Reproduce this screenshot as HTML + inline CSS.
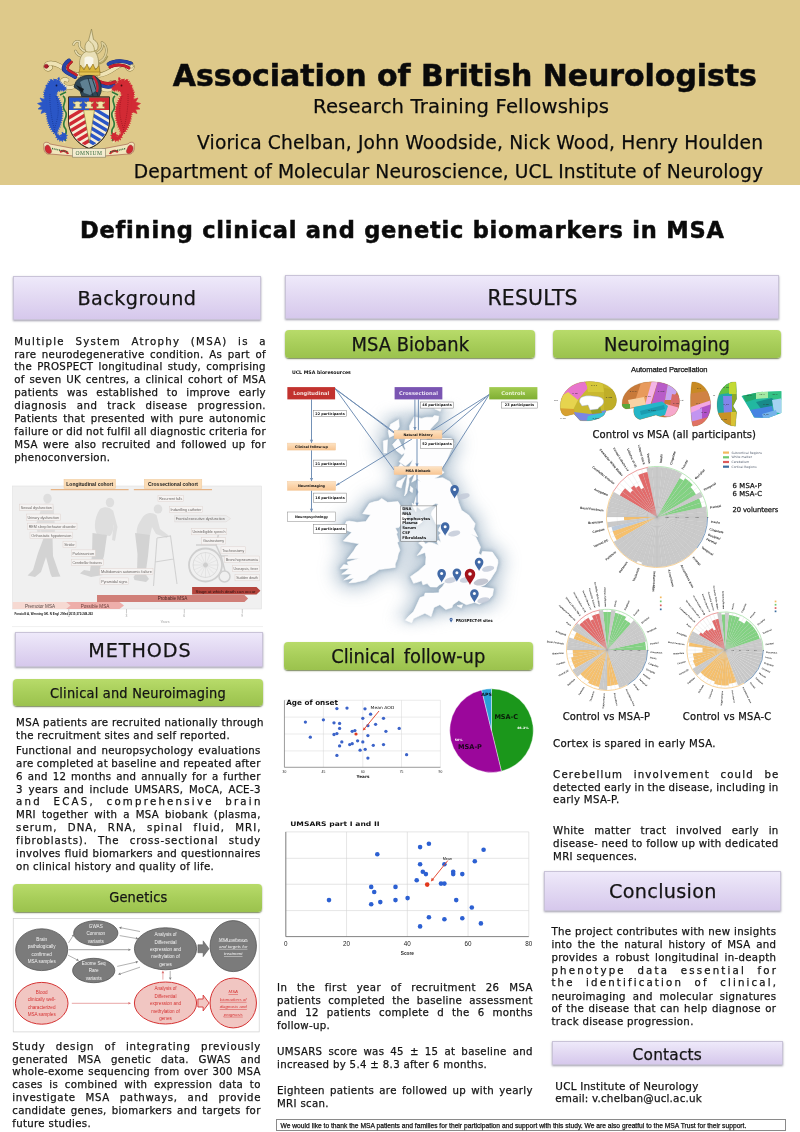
<!DOCTYPE html>
<html lang="en">
<head>
<meta charset="utf-8">
<title>Defining clinical and genetic biomarkers in MSA</title>
<style>
*{margin:0;padding:0;box-sizing:border-box}
html,body{width:800px;height:1132px;background:#fff;overflow:hidden}
body{position:relative;font-family:"DejaVu Sans","Liberation Sans",sans-serif;color:#141414}
.abs{position:absolute}
#band{left:0;top:0;width:800px;height:184.5px;background:#dec98a}
.pbox{position:absolute;background:linear-gradient(#eee9fa,#e3daf3 45%,#d6c8ec);border:1px solid #c9c3d8;box-shadow:0 1px 2px rgba(80,75,105,.55)}
.gbox{position:absolute;background:linear-gradient(#b8db6a,#a8ce5a 50%,#9bc24d);border-radius:4px;box-shadow:0 1px 1.5px rgba(70,90,30,.75)}
.t{position:absolute;white-space:pre;color:#141414;-webkit-text-stroke:0.25px #141414}
svg{position:absolute;overflow:visible}
svg text{font-family:"Liberation Sans",sans-serif}
</style>
</head>
<body>
<div id="band" class="abs"></div>
<!-- section boxes -->
<div class="pbox" style="left:13px;top:276px;width:248px;height:44px"></div>
<div class="pbox" style="left:285px;top:275px;width:493.5px;height:44px"></div>
<div class="pbox" style="left:14.7px;top:632.3px;width:248.5px;height:35px"></div>
<div class="pbox" style="left:543.8px;top:870.5px;width:237.5px;height:40.2px"></div>
<div class="pbox" style="left:552px;top:1041.4px;width:231px;height:23.4px"></div>
<div class="gbox" style="left:285px;top:330px;width:250px;height:28px"></div>
<div class="gbox" style="left:552.5px;top:330px;width:228.5px;height:28px"></div>
<div class="gbox" style="left:284px;top:642.3px;width:249.2px;height:28px"></div>
<div class="gbox" style="left:13.3px;top:679.2px;width:250px;height:27.2px"></div>
<div class="gbox" style="left:13.3px;top:884px;width:249.2px;height:28px"></div>
<!-- footer acknowledgement box -->
<div class="abs" style="left:275.8px;top:1119.4px;width:510.2px;height:12px;border:1px solid #8a8a8a;background:#fff"></div>

<div class="t" style="left:172.80px;top:57px;font-size:30px;line-height:37px;font-weight:bold;-webkit-text-stroke-width:0.55px;color:#0a0a0a;letter-spacing:-0.058px;">Association of British Neurologists</div>
<div class="t" style="left:313.00px;top:94px;font-size:19.6px;line-height:25px;color:#0a0a0a;letter-spacing:0.160px;">Research Training Fellowships</div>
<div class="t" style="left:197.00px;top:131px;font-size:18.7px;line-height:23px;color:#0a0a0a;letter-spacing:0.163px;">Viorica Chelban, John Woodside, Nick Wood, Henry Houlden</div>
<div class="t" style="left:133.75px;top:160px;font-size:18.7px;line-height:23px;color:#0a0a0a;letter-spacing:0.084px;">Department of Molecular Neuroscience, UCL Institute of Neurology</div>
<div class="t" style="left:80.00px;top:216px;font-size:22.5px;line-height:28px;font-weight:bold;-webkit-text-stroke-width:0.55px;color:#0a0a0a;letter-spacing:0.787px;">Defining clinical and genetic biomarkers in MSA</div>
<div class="t" style="left:77.50px;top:286px;font-size:19.2px;line-height:25px;letter-spacing:0.446px;">Background</div>
<div class="t" style="left:487.50px;top:285px;font-size:20.4px;line-height:26px;letter-spacing:0.188px;">RESULTS</div>
<div class="t" style="left:88.20px;top:638px;font-size:19.2px;line-height:25px;letter-spacing:0.943px;">METHODS</div>
<div class="t" style="left:609.10px;top:879px;font-size:19.2px;line-height:25px;letter-spacing:0.302px;">Conclusion</div>
<div class="t" style="left:632.60px;top:1045px;font-size:15.4px;line-height:20px;letter-spacing:0.185px;">Contacts</div>
<div class="t" style="left:351.50px;top:332px;font-size:19.9px;line-height:25px;font-family:'DejaVu Sans Condensed','DejaVu Sans',sans-serif;letter-spacing:0.017px;">MSA Biobank</div>
<div class="t" style="left:604.00px;top:332px;font-size:19.9px;line-height:25px;font-family:'DejaVu Sans Condensed','DejaVu Sans',sans-serif;letter-spacing:-0.003px;">Neuroimaging</div>
<div class="t" style="left:331.25px;top:644px;font-size:19.9px;line-height:25px;font-family:'DejaVu Sans Condensed','DejaVu Sans',sans-serif;letter-spacing:-0.068px;word-spacing:3px;">Clinical follow-up</div>
<div class="t" style="left:50.00px;top:684px;font-size:14.4px;line-height:18px;font-family:'DejaVu Sans Condensed','DejaVu Sans',sans-serif;letter-spacing:0.221px;">Clinical and Neuroimaging</div>
<div class="t" style="left:109.20px;top:888px;font-size:14.4px;line-height:18px;font-family:'DejaVu Sans Condensed','DejaVu Sans',sans-serif;letter-spacing:0.197px;">Genetics</div>
<div class="t" style="left:14.30px;top:335px;font-size:10.2px;line-height:13px;letter-spacing:1.254px;word-spacing:6.120px;">Multiple System Atrophy (MSA) is a</div>
<div class="t" style="left:14.30px;top:348px;font-size:10.2px;line-height:13px;letter-spacing:0.326px;word-spacing:1.990px;">rare neurodegenerative condition. As part of</div>
<div class="t" style="left:14.30px;top:360px;font-size:10.2px;line-height:13px;letter-spacing:0.326px;word-spacing:1.597px;">the PROSPECT longitudinal study, comprising</div>
<div class="t" style="left:14.30px;top:373px;font-size:10.2px;line-height:13px;letter-spacing:0.326px;word-spacing:1.154px;">of seven UK centres, a clinical cohort of MSA</div>
<div class="t" style="left:14.30px;top:386px;font-size:10.2px;line-height:13px;letter-spacing:0.326px;word-spacing:4.933px;">patients was established to improve early</div>
<div class="t" style="left:14.30px;top:399px;font-size:10.2px;line-height:13px;letter-spacing:0.492px;word-spacing:6.120px;">diagnosis and track disease progression.</div>
<div class="t" style="left:14.30px;top:412px;font-size:10.2px;line-height:13px;letter-spacing:0.326px;word-spacing:1.943px;">Patients that presented with pure autonomic</div>
<div class="t" style="left:14.30px;top:425px;font-size:10.2px;line-height:13px;letter-spacing:0.326px;word-spacing:-0.404px;">failure or did not fulfil all diagnostic criteria for</div>
<div class="t" style="left:14.30px;top:438px;font-size:10.2px;line-height:13px;letter-spacing:0.326px;word-spacing:1.734px;">MSA were also recruited and followed up for</div>
<div class="t" style="left:14.30px;top:451px;font-size:10.2px;line-height:13px;letter-spacing:0.326px;">phenoconversion.</div>
<div class="t" style="left:16.10px;top:716px;font-size:10.2px;line-height:13px;letter-spacing:0.326px;word-spacing:0.056px;">MSA patients are recruited nationally through</div>
<div class="t" style="left:16.10px;top:729px;font-size:10.2px;line-height:13px;letter-spacing:0.326px;">the recruitment sites and self reported.</div>
<div class="t" style="left:16.10px;top:744px;font-size:10.2px;line-height:13px;letter-spacing:0.326px;word-spacing:1.233px;">Functional and neuropsychology evaluations</div>
<div class="t" style="left:16.10px;top:757px;font-size:10.2px;line-height:13px;letter-spacing:0.326px;word-spacing:-0.302px;">are completed at baseline and repeated after</div>
<div class="t" style="left:16.10px;top:770px;font-size:10.2px;line-height:13px;letter-spacing:0.326px;word-spacing:1.240px;">6 and 12 months and annually for a further</div>
<div class="t" style="left:16.10px;top:783px;font-size:10.2px;line-height:13px;letter-spacing:0.326px;word-spacing:2.061px;">3 years and include UMSARS, MoCA, ACE-3</div>
<div class="t" style="left:16.10px;top:795px;font-size:10.2px;line-height:13px;letter-spacing:2.234px;word-spacing:6.120px;">and ECAS, comprehensive brain</div>
<div class="t" style="left:16.10px;top:808px;font-size:10.2px;line-height:13px;letter-spacing:0.326px;word-spacing:2.384px;">MRI together with a MSA biobank (plasma,</div>
<div class="t" style="left:16.10px;top:821px;font-size:10.2px;line-height:13px;letter-spacing:0.997px;word-spacing:6.120px;">serum, DNA, RNA, spinal fluid, MRI,</div>
<div class="t" style="left:16.10px;top:834px;font-size:10.2px;line-height:13px;letter-spacing:0.861px;word-spacing:6.120px;">fibroblasts). The cross-sectional study</div>
<div class="t" style="left:16.10px;top:847px;font-size:10.2px;line-height:13px;letter-spacing:0.326px;word-spacing:0.429px;">involves fluid biomarkers and questionnaires</div>
<div class="t" style="left:16.10px;top:860px;font-size:10.2px;line-height:13px;letter-spacing:0.326px;">on clinical history and quality of life.</div>
<div class="t" style="left:12.25px;top:1040px;font-size:10.2px;line-height:13px;letter-spacing:0.786px;word-spacing:6.120px;">Study design of integrating previously</div>
<div class="t" style="left:12.25px;top:1053px;font-size:10.2px;line-height:13px;letter-spacing:0.350px;word-spacing:6.120px;">generated MSA genetic data. GWAS and</div>
<div class="t" style="left:12.25px;top:1065px;font-size:10.2px;line-height:13px;letter-spacing:0.326px;word-spacing:0.865px;">whole-exome sequencing from over 300 MSA</div>
<div class="t" style="left:12.25px;top:1078px;font-size:10.2px;line-height:13px;letter-spacing:0.326px;word-spacing:3.135px;">cases is combined with expression data to</div>
<div class="t" style="left:12.25px;top:1091px;font-size:10.2px;line-height:13px;letter-spacing:0.608px;word-spacing:6.120px;">investigate MSA pathways, and provide</div>
<div class="t" style="left:12.25px;top:1104px;font-size:10.2px;line-height:13px;letter-spacing:0.326px;word-spacing:1.404px;">candidate genes, biomarkers and targets for</div>
<div class="t" style="left:12.25px;top:1117px;font-size:10.2px;line-height:13px;letter-spacing:0.326px;">future studies.</div>
<div class="t" style="left:277.00px;top:981px;font-size:10.2px;line-height:13px;letter-spacing:0.422px;word-spacing:6.120px;">In the first year of recruitment 26 MSA</div>
<div class="t" style="left:277.00px;top:994px;font-size:10.2px;line-height:13px;letter-spacing:0.326px;word-spacing:3.443px;">patients completed the baseline assessment</div>
<div class="t" style="left:277.00px;top:1006px;font-size:10.2px;line-height:13px;letter-spacing:0.326px;word-spacing:4.445px;">and 12 patients complete d the 6 months</div>
<div class="t" style="left:277.00px;top:1019px;font-size:10.2px;line-height:13px;letter-spacing:0.326px;">follow-up.</div>
<div class="t" style="left:277.00px;top:1045px;font-size:10.2px;line-height:13px;letter-spacing:0.326px;word-spacing:2.456px;">UMSARS score was 45 ± 15 at baseline and</div>
<div class="t" style="left:277.00px;top:1058px;font-size:10.2px;line-height:13px;letter-spacing:0.326px;">increased by 5.4 ± 8.3 after 6 months.</div>
<div class="t" style="left:277.00px;top:1084px;font-size:10.2px;line-height:13px;letter-spacing:0.326px;word-spacing:1.599px;">Eighteen patients are followed up with yearly</div>
<div class="t" style="left:277.00px;top:1097px;font-size:10.2px;line-height:13px;letter-spacing:0.326px;">MRI scan.</div>
<div class="t" style="left:553.10px;top:737px;font-size:10.2px;line-height:13px;letter-spacing:0.326px;">Cortex is spared in early MSA.</div>
<div class="t" style="left:553.10px;top:768px;font-size:10.2px;line-height:13px;letter-spacing:1.170px;word-spacing:6.120px;">Cerebellum involvement could be</div>
<div class="t" style="left:553.10px;top:781px;font-size:10.2px;line-height:13px;letter-spacing:0.326px;word-spacing:-0.408px;">detected early in the disease, including in</div>
<div class="t" style="left:553.10px;top:793px;font-size:10.2px;line-height:13px;letter-spacing:0.326px;">early MSA-P.</div>
<div class="t" style="left:553.10px;top:824px;font-size:10.2px;line-height:13px;letter-spacing:0.347px;word-spacing:6.120px;">White matter tract involved early in</div>
<div class="t" style="left:553.10px;top:837px;font-size:10.2px;line-height:13px;letter-spacing:0.326px;word-spacing:-0.088px;">disease- need to follow up with dedicated</div>
<div class="t" style="left:553.10px;top:850px;font-size:10.2px;line-height:13px;letter-spacing:0.326px;">MRI sequences.</div>
<div class="t" style="left:551.40px;top:925px;font-size:10.2px;line-height:13px;letter-spacing:0.326px;word-spacing:0.184px;">The project contributes with new insights</div>
<div class="t" style="left:551.40px;top:938px;font-size:10.2px;line-height:13px;letter-spacing:0.326px;word-spacing:1.959px;">into the the natural history of MSA and</div>
<div class="t" style="left:551.40px;top:951px;font-size:10.2px;line-height:13px;letter-spacing:0.326px;word-spacing:1.932px;">provides a robust longitudinal in-deapth</div>
<div class="t" style="left:551.40px;top:964px;font-size:10.2px;line-height:13px;letter-spacing:2.200px;word-spacing:6.120px;">phenotype data essential for</div>
<div class="t" style="left:551.40px;top:976px;font-size:10.2px;line-height:13px;letter-spacing:2.163px;word-spacing:6.120px;">the identification of clinical,</div>
<div class="t" style="left:551.40px;top:990px;font-size:10.2px;line-height:13px;letter-spacing:0.326px;word-spacing:3.163px;">neuroimaging and molecular signatures</div>
<div class="t" style="left:551.40px;top:1002px;font-size:10.2px;line-height:13px;letter-spacing:0.326px;word-spacing:0.894px;">of the disease that can help diagnose or</div>
<div class="t" style="left:551.40px;top:1015px;font-size:10.2px;line-height:13px;letter-spacing:0.326px;">track disease progression.</div>
<div class="t" style="left:555.30px;top:1079px;font-size:10.4px;line-height:14px;letter-spacing:0.245px;">UCL Institute of Neurology</div>
<div class="t" style="left:555.30px;top:1091px;font-size:10.4px;line-height:14px;letter-spacing:0.176px;">email: v.chelban@ucl.ac.uk</div>
<div class="t" style="left:592.50px;top:428px;font-size:10.0px;line-height:13px;letter-spacing:0.078px;">Control vs MSA (all participants)</div>
<div class="t" style="left:562.75px;top:709px;font-size:11px;line-height:15px;font-family:'DejaVu Sans Condensed','DejaVu Sans',sans-serif;letter-spacing:0.201px;">Control vs MSA-P</div>
<div class="t" style="left:682.75px;top:709px;font-size:11px;line-height:15px;font-family:'DejaVu Sans Condensed','DejaVu Sans',sans-serif;letter-spacing:0.218px;">Control vs MSA-C</div>
<div class="t" style="left:631.00px;top:364px;font-size:7.6px;line-height:11px;font-family:'Liberation Sans',sans-serif;letter-spacing:-0.096px;">Automated Parcellation</div>
<div class="t" style="left:280.50px;top:1121px;font-size:6.7px;line-height:9px;font-family:'Liberation Sans',sans-serif;letter-spacing:0.005px;">We would like to thank the MSA patients and families for their participation and support with this study. We are also greatful to the MSA Trust for their support.</div>
<div class="t" style="left:732.40px;top:481px;font-size:6.8px;line-height:10px;letter-spacing:0.226px;">6 MSA-P</div>
<div class="t" style="left:732.40px;top:489px;font-size:6.8px;line-height:10px;letter-spacing:0.167px;">6 MSA-C</div>
<div class="t" style="left:732.40px;top:505px;font-size:6.8px;line-height:10px;letter-spacing:-0.088px;">20 volunteers</div>
<!-- ABN crest -->
<svg style="left:0;top:0" width="180" height="184" viewBox="0 0 180 184">
<defs>
<clipPath id="shL"><path d="M69 110H89V147C78 143 70 134 69 122Z"/></clipPath>
<clipPath id="shR"><path d="M109 110H89V147C100 143 108 134 109 122Z"/></clipPath>
<g id="seah">
 <path id="seahp" d="M47 86L49.500 82L51.500 79.500L53 82L55 79L56.500 81.500L58.500 79.500L59.500 82.500L62 84.500L66 88.500L64.500 90.300L60.500 89.800L57 91.500L55.500 94.500C57.500 97 60 102 61.500 108C62.500 114 61.500 121 59 127C57.500 130.500 56 133 56.500 136C57.500 139.500 61 141.500 64.500 139.500C67 137.500 66.500 134 63.800 133.300C62 133.200 61 135 62.300 136.800C60.500 137.500 59.500 136 59 135.500C54 134 50 128 48 120C46 111 45 101 44.500 93Z"/>
 <use href="#seahp" fill="none" stroke-width="3" stroke-dasharray="0.9 1.3"/>
 <path d="M46 100L40 98L42.500 102L37.500 103.500L41.500 106L38 109L42.500 109.500L41 113.500L46.500 111.500Z" stroke-width="0.6"/>
</g>
</defs>
<!-- mantling ribbons -->
<g fill="none" stroke-linecap="round" stroke-linejoin="round">
 <path d="M79 75C72 75 66 70 60 66C54 62.500 47 62 46 66C45.500 69 49 70 50.500 67.500" stroke="#8a7a40" stroke-width="4.9"/>
 <path d="M79 75C72 75 66 70 60 66C54 62.500 47 62 46 66C45.500 69 49 70 50.500 67.500" stroke="#efe3b4" stroke-width="4"/>
 <path d="M80 84C74 88 67 89 63 85C60 81 64 78 67 80" stroke="#8a7a40" stroke-width="4.5"/>
 <path d="M80 84C74 88 67 89 63 85C60 81 64 78 67 80" stroke="#efe3b4" stroke-width="3.6"/>
 <path d="M69 60.500C65 63 63 67 64 70C66 73 71 74 75 77" stroke="#1a2a6a" stroke-width="4.0"/>
 <path d="M69 60.500C65 63 63 67 64 70C66 73 71 74 75 77" stroke="#2846a8" stroke-width="3.4"/>
 <path d="M71.500 62C68.500 64.500 67 67.500 68 69.500C69.500 71.500 73 72.500 76.500 75" stroke="#7a1018" stroke-width="2.6"/>
 <path d="M71.500 62C68.500 64.500 67 67.500 68 69.500C69.500 71.500 73 72.500 76.500 75" stroke="#c8202f" stroke-width="2.2"/>
 <circle cx="46.300" cy="66.300" r="2.100" fill="#b01c2c" stroke="#6a1018" stroke-width="0.400"/>
 <path d="M99 75C106 75 112 70 118 66C124 62.500 131 62 132 66C132.500 69 129 70 127.500 67.500" stroke="#8a7a40" stroke-width="4.9"/>
 <path d="M99 75C106 75 112 70 118 66C124 62.500 131 62 132 66C132.500 69 129 70 127.500 67.500" stroke="#efe3b4" stroke-width="4"/>
 <path d="M98 86C104 91 111 91 114 87C116 84 113 81 110.500 83" stroke="#8a7a40" stroke-width="4.5"/>
 <path d="M98 86C104 91 111 91 114 87C116 84 113 81 110.500 83" stroke="#efe3b4" stroke-width="3.6"/>
 <path d="M108.500 64C114 60.500 124 60 131 63.500" stroke="#1a2a6a" stroke-width="3.8000000000000003"/>
 <path d="M108.500 64C114 60.500 124 60 131 63.500" stroke="#2846a8" stroke-width="3.2"/>
 <path d="M110 67C116 64 124 64.500 129 68" stroke="#7a1018" stroke-width="3.0"/>
 <path d="M110 67C116 64 124 64.500 129 68" stroke="#c8202f" stroke-width="2.6"/>
 <path d="M94 77.500C99 83 108 85.500 115 82" stroke="#7a1018" stroke-width="3.1999999999999997"/>
 <path d="M94 77.500C99 83 108 85.500 115 82" stroke="#c8202f" stroke-width="2.8"/>
 <path d="M96 81.500C101 87 109 88.500 114.500 85.500" stroke="#1a2a6a" stroke-width="3.3"/>
 <path d="M96 81.500C101 87 109 88.500 114.500 85.500" stroke="#2846a8" stroke-width="2.8"/>
 <circle cx="131.700" cy="66.300" r="1.800" fill="#efe3b4" stroke="#8a7a40" stroke-width="0.400"/>
</g>
<!-- unicorn -->
<g fill="none" stroke-linecap="round" stroke-linejoin="round">
 <path d="M86 52C81 50 78 46 79.500 42C77.500 40.500 74.500 41.500 73.500 44.500" stroke="#8f8450" stroke-width="2.600"/>
 <path d="M86 52C81 50 78 46 79.500 42C77.500 40.500 74.500 41.500 73.500 44.500" stroke="#e6dbb0" stroke-width="1.600"/>
 <path d="M85 56.500C80 57 76.500 54 75.500 51" stroke="#8f8450" stroke-width="2.600"/>
 <path d="M85 56.500C80 57 76.500 54 75.500 51" stroke="#e6dbb0" stroke-width="1.600"/>
 <path d="M97 53C101 51 103.500 47 102 42.500C105 44 107.500 48 106 53.500C105 57.500 102 61 98.500 62" stroke="#8f8450" stroke-width="2.600"/>
 <path d="M97 53C101 51 103.500 47 102 42.500C105 44 107.500 48 106 53.500C105 57.500 102 61 98.500 62" stroke="#dccf9c" stroke-width="1.600"/>
 <path d="M99 64C103 63 106 60 107.500 56.500" stroke="#a89a5a" stroke-width="1.400"/>
</g>
<g fill="#e9dfb6" stroke="#8f8450" stroke-width="0.700" stroke-linejoin="round">
 <path d="M80 68C78.500 61 80.500 54 86 51.500C84 47.500 85 42.500 88.500 40.500L91.500 29L93.500 39.500C97.500 41.500 99.500 46 97 50L94.500 51C98 55 99.500 61 98 68.500Z"/>
 <path d="M88.500 40.500C92 42.500 94.500 46 94.500 51M86 51.500C89 52.500 92 52 94.500 51" fill="none" stroke="#a89a5a" stroke-width="0.800"/>
 <path d="M84.500 58C87 56 91 56 93.500 58.500L93 66.500H84.500Z" fill="#f8f6ea" stroke="none"/>
</g>
<!-- crown -->
<path d="M79 73L80.5 65L84 70L87 64L89.5 70L93 64L95.5 70L99 65.5L100 73Z" fill="#d9b63c" stroke="#8a6a18" stroke-width="0.6"/>
<rect x="79" y="72" width="21" height="3.2" fill="#e3c352" stroke="#8a6a18" stroke-width="0.5"/>
<!-- helmet -->
<path d="M75 84C77 77 86 74 94 76C100 78 102 84 101 92L99 97H82L80 91L74 87Z" fill="#2e4656" stroke="#182630" stroke-width="0.8"/>
<path d="M80 82C84 79 90 78 95 80L97 90L90 95L84 93Z" fill="#5f8092"/>
<path d="M76 85L84 89L82 93Z" fill="#141c22"/>
<path d="M92 78L98 96M88 78L93 96" stroke="#1a2a34" stroke-width="0.8" fill="none"/>
<path d="M93 76C96 80 99 86 97 92" stroke="#c8202f" stroke-width="2.2" fill="none"/>
<!-- staffs and serpents -->
<g fill="none">
 <path d="M64.5 92V143M113.5 92V143" stroke="#e9dcaa" stroke-width="1.6"/>
 <path d="M63 96C69 100 60 106 65 111C70 116 60 122 65 128C69 133 62 137 66 141" stroke="#2d7a3a" stroke-width="1.7"/>
 <path d="M115 96C109 100 118 106 113 111C108 116 118 122 113 128C109 133 116 137 112 141" stroke="#2d7a3a" stroke-width="1.7"/>
 <path d="M60 95L66 92M118 95L112 92" stroke="#2d7a3a" stroke-width="1.6"/>
</g>
<!-- seahorses -->
<use href="#seah" fill="#2a56c6" stroke="#2a56c6"/>
<use href="#seah" fill="#d22a34" stroke="#d22a34" transform="translate(178,0) scale(-1,1)"/>
<g fill="none" stroke-width="0.8" stroke-dasharray="0.8 1.3">
 <path d="M56 96C58 102 59 110 57.500 118C56 125 53.500 130 54 135" stroke="#15338c"/>
 <path d="M50 94C49.500 104 51 116 54 128" stroke="#15338c"/>
 <path d="M122 96C120 102 119 110 120.500 118C122 125 124.500 130 124 135" stroke="#8f131d"/>
 <path d="M128 94C128.500 104 127 116 124 128" stroke="#8f131d"/>
</g>
<circle cx="56.500" cy="85.500" r="0.900" fill="#0d1a4a"/><circle cx="121.500" cy="85.500" r="0.900" fill="#4a0a10"/>
<!-- shield -->
<path d="M68.500 97H109.500V122C108.500 135 100 144.500 89 148.500C78 144.500 69.500 135 68.500 122Z" fill="#f4ecd0" stroke="#3a3020" stroke-width="0.9"/>
<g clip-path="url(#shL)">
 <rect x="68" y="109" width="22" height="40" fill="#f6eed6"/>
 <path d="M62 122L92 104M62 129L92 111M62 136L92 118M62 143L92 125M62 150L92 132M62 157L92 139" stroke="#d02a34" stroke-width="3.4"/>
</g>
<g clip-path="url(#shR)">
 <rect x="88" y="109" width="22" height="40" fill="#f6eed6"/>
 <path d="M116 122L86 104M116 129L86 111M116 136L86 118M116 143L86 125M116 150L86 132M116 157L86 139" stroke="#2a56c6" stroke-width="3.4"/>
</g>
<path d="M83.500 110H94.500L89.300 143Z" fill="#efe29a" stroke="#6a5a28" stroke-width="0.5"/>
<rect x="69" y="97.500" width="20" height="12.500" fill="#2a56c6"/>
<rect x="89" y="97.500" width="20" height="12.500" fill="#d22a34"/>
<g fill="#f1e6a8" stroke="#7a6a30" stroke-width="0.35">
 <path d="M73.500 108.500H81.500V106.500H79.800V104C81.500 104 82.200 102.500 82 101.500C80.800 102.600 79.500 102.600 79 101.500H76C75.500 102.600 74.200 102.600 73 101.500C72.800 102.500 73.500 104 75.200 104V106.500H73.500Z"/>
 <path d="M85 108.500H93V106.500H91.300V104C93 104 93.700 102.500 93.500 101.500C92.300 102.600 91 102.600 90.500 101.500H87.500C87 102.600 85.700 102.600 84.500 101.500C84.300 102.500 85 104 86.700 104V106.500H85Z"/>
 <path d="M96.500 108.500H104.500V106.500H102.800V104C104.500 104 105.200 102.500 105 101.500C103.800 102.600 102.500 102.600 102 101.500H99C98.500 102.600 97.200 102.600 96 101.500C95.800 102.500 96.500 104 98.200 104V106.500H96.500Z"/>
</g>
<path d="M68.500 97H109.500V122C108.500 135 100 144.500 89 148.500C78 144.500 69.500 135 68.500 122Z" fill="none" stroke="#3a3020" stroke-width="0.9"/>
<!-- motto scroll -->
<g stroke="#8a3a30" stroke-width="0.5">
 <path d="M44 146C42 142 48 141 50 144L76 149L74 156L50 154C46 155 43 151 44 146Z" fill="#f1e6bc"/>
 <path d="M134 146C136 142 130 141 128 144L102 149L104 156L128 154C132 155 135 151 134 146Z" fill="#f1e6bc"/>
 <path d="M45 147.500C46 144 49 144.500 50 147C51 150 53 152 50 153.500C47 154 44.500 151 45 147.500Z" fill="#d02a34"/>
 <path d="M133 147.500C132 144 129 144.500 128 147C127 150 125 152 128 153.500C131 154 133.500 151 133 147.500Z" fill="#d02a34"/>
 <path d="M60 152C63 150 67 151 68 154M118 152C115 150 111 151 110 154" fill="none" stroke="#d02a34" stroke-width="2.2"/>
 <path d="M72.500 148.500H105.500V157.300H72.500Z" fill="#f4ecd0" stroke="#6a6a50"/>
</g>
<text x="89" y="155.300" text-anchor="middle" font-size="5.600" style="font-family:'Liberation Serif',serif;letter-spacing:.5px" fill="#356a3c">OMNIUM</text>
<path d="M52 148.500L68 152M110 152L126 148.500" stroke="#356a3c" stroke-width="1.400" stroke-dasharray="1 .8" fill="none"/>
</svg>

<!-- natural history figure -->
<svg style="left:0;top:470px" width="280" height="162" viewBox="0 470 280 162">
<rect x="12.6" y="486" width="249" height="123" fill="#f0f0f0" stroke="#dcdcdc" stroke-width="0.5"/>
<g fill="#dedede" stroke="none">
<ellipse cx="47.5" cy="498.500" rx="4.200" ry="4.800"/>
<path d="M42 505C45 503 51 503 53.500 506L55 528C55.500 533 53 536 52 538L44 538C41 534 40 528 40.500 520Z"/>
<path d="M44 537L52.500 537L53 556L58.500 572L60.500 576.500L52 577L50.500 574L46 557L41 572L35 577L27.500 575.500L33 570L38 553Z" fill="#d3d3d3"/>
<path d="M41.500 508L36 524L37.500 533L40.500 532L41 524L44 514Z"/>
<ellipse cx="110" cy="502.500" rx="4.200" ry="4.800"/>
<path d="M100 509C104 506 110 507 112 510L113 524C114 530 112 534 110 536L97 534C93 528 95 516 100 509Z"/>
<path d="M92.500 533L107 535L104 556L99.500 570L103 575L91 577L80 573.500L84 570L90 571L92 555Z" fill="#d3d3d3"/>
<path d="M109 512L113.500 526L112 540L115 541L117.500 527L113 510Z"/>
<ellipse cx="158" cy="509" rx="4.300" ry="4.600"/>
<path d="M141 520C144 513 151 511 156.500 515L160 529L168 535L167 538L156 534L152 527L150 536L137 534C136 529 138 524 141 520Z"/>
<path d="M135 533L150 535L148 556L145.500 574L149 579L146 582L134.500 580L133.500 577L137 572L137.500 554Z" fill="#d3d3d3"/>
</g>
<g fill="none" stroke="#d2d2d2" stroke-width="1.1">
<path d="M157 538L153.500 586M157 538L170.500 536L177 584M155 562L173.500 559"/>
</g>
<g fill="none" stroke="#cfcfcf">
<circle cx="205.500" cy="565" r="16.500" stroke-width="1.800"/>
<circle cx="205.500" cy="565" r="12.500" stroke-width="0.600"/>
<circle cx="205.500" cy="565" r="2" fill="#cfcfcf"/>
<path d="M205.5 565L218.0 565.0M205.5 565L217.0 569.8M205.5 565L214.3 573.8M205.5 565L210.3 576.5M205.5 565L205.5 577.5M205.5 565L200.7 576.5M205.5 565L196.7 573.8M205.5 565L194.0 569.8M205.5 565L193.0 565.0M205.5 565L194.0 560.2M205.5 565L196.7 556.2M205.5 565L200.7 553.5M205.5 565L205.5 552.5M205.5 565L210.3 553.5M205.5 565L214.3 556.2M205.5 565L217.0 560.2" stroke-width="0.350"/>
<circle cx="224.500" cy="576.500" r="5.500" stroke-width="1.500"/>
<path d="M196 545H216L221 556H228M216 545L219 532M221 556L225 571" stroke-width="1.500"/>
</g>
<path d="M50.750 489.600H128.600M133.850 489.600H212" stroke="#e6b486" stroke-width="1.300"/>
<rect x="64" y="479.400" width="51.500" height="9" fill="#fbdcb6" stroke="#eec79a" stroke-width="0.500"/>
<rect x="144.300" y="479.400" width="57.500" height="9" fill="#fbdcb6" stroke="#eec79a" stroke-width="0.500"/>
<text x="89.750" y="486.200" text-anchor="middle" font-size="5" font-weight="bold" fill="#222">Longitudinal cohort</text>
<text x="173" y="486.200" text-anchor="middle" font-size="5" font-weight="bold" fill="#222">Crossectional cohort</text>
<rect x="19.6" y="504.10" width="33.40" height="6.400" fill="#f6f4f3" stroke="#dccfcb" stroke-width="0.450"/>
<text x="20.80" y="508.80" font-size="4.200" textLength="31.00" lengthAdjust="spacingAndGlyphs" fill="#6a6664">Sexual dysfunction</text>
<rect x="26.25" y="514.05" width="34.15" height="6.400" fill="#f6f4f3" stroke="#dccfcb" stroke-width="0.450"/>
<text x="27.45" y="518.75" font-size="4.200" textLength="31.75" lengthAdjust="spacingAndGlyphs" fill="#6a6664">Urinary dysfunction</text>
<rect x="27.5" y="523.15" width="49.50" height="6.400" fill="#f6f4f3" stroke="#dccfcb" stroke-width="0.450"/>
<text x="28.70" y="527.85" font-size="4.200" textLength="47.10" lengthAdjust="spacingAndGlyphs" fill="#6a6664">REM sleep behavior disorder</text>
<rect x="30" y="532.10" width="42.60" height="6.400" fill="#f6f4f3" stroke="#dccfcb" stroke-width="0.450"/>
<text x="31.20" y="536.80" font-size="4.200" textLength="40.20" lengthAdjust="spacingAndGlyphs" fill="#6a6664">Orthostatic hypotension</text>
<rect x="63" y="541.20" width="13.00" height="6.400" fill="#f6f4f3" stroke="#dccfcb" stroke-width="0.450"/>
<text x="64.20" y="545.90" font-size="4.200" textLength="10.60" lengthAdjust="spacingAndGlyphs" fill="#6a6664">Stridor</text>
<rect x="71.4" y="549.90" width="24.00" height="6.400" fill="#f6f4f3" stroke="#dccfcb" stroke-width="0.450"/>
<text x="72.60" y="554.60" font-size="4.200" textLength="21.60" lengthAdjust="spacingAndGlyphs" fill="#6a6664">Parkinsonism</text>
<rect x="71.4" y="559.20" width="31.85" height="6.400" fill="#f6f4f3" stroke="#dccfcb" stroke-width="0.450"/>
<text x="72.60" y="563.90" font-size="4.200" textLength="29.45" lengthAdjust="spacingAndGlyphs" fill="#6a6664">Cerebellar features</text>
<rect x="99.75" y="568.30" width="53.25" height="6.400" fill="#f6f4f3" stroke="#dccfcb" stroke-width="0.450"/>
<text x="100.95" y="573.00" font-size="4.200" textLength="50.85" lengthAdjust="spacingAndGlyphs" fill="#6a6664">Multidomain autonomic failure</text>
<rect x="100" y="577.90" width="28.60" height="6.400" fill="#f6f4f3" stroke="#dccfcb" stroke-width="0.450"/>
<text x="101.20" y="582.60" font-size="4.200" textLength="26.20" lengthAdjust="spacingAndGlyphs" fill="#6a6664">Pyramidal signs</text>
<rect x="158" y="495.30" width="25.40" height="6.400" fill="#f6f4f3" stroke="#dccfcb" stroke-width="0.450"/>
<text x="159.20" y="500.00" font-size="4.200" textLength="23.00" lengthAdjust="spacingAndGlyphs" fill="#6a6664">Recurrent falls</text>
<rect x="169.4" y="506.20" width="33.20" height="6.400" fill="#f6f4f3" stroke="#dccfcb" stroke-width="0.450"/>
<text x="170.60" y="510.90" font-size="4.200" textLength="30.80" lengthAdjust="spacingAndGlyphs" fill="#6a6664">Indwelling catheter</text>
<path d="M174.6 515.4499999999999H226L230.6 518.65L226 521.85H174.6Z" fill="#ececec" stroke="#d9cfcc" stroke-width="0.4"/>
<text x="175.80" y="520.15" font-size="4.200" textLength="49.00" lengthAdjust="spacingAndGlyphs" fill="#6a6664">Frontal executive dysfunction</text>
<rect x="191.25" y="528.40" width="35.35" height="6.400" fill="#f6f4f3" stroke="#dccfcb" stroke-width="0.450"/>
<text x="192.45" y="533.10" font-size="4.200" textLength="32.95" lengthAdjust="spacingAndGlyphs" fill="#6a6664">Unintelligible speech</text>
<rect x="201.75" y="537.70" width="23.65" height="6.400" fill="#f6f4f3" stroke="#dccfcb" stroke-width="0.450"/>
<text x="202.95" y="542.40" font-size="4.200" textLength="21.25" lengthAdjust="spacingAndGlyphs" fill="#6a6664">Gastrostomy</text>
<rect x="221" y="546.80" width="24.50" height="6.400" fill="#f6f4f3" stroke="#dccfcb" stroke-width="0.450"/>
<text x="222.20" y="551.50" font-size="4.200" textLength="22.10" lengthAdjust="spacingAndGlyphs" fill="#6a6664">Tracheostomy</text>
<rect x="224.5" y="556.05" width="34.70" height="6.400" fill="#f6f4f3" stroke="#dccfcb" stroke-width="0.450"/>
<text x="225.70" y="560.75" font-size="4.200" textLength="32.30" lengthAdjust="spacingAndGlyphs" fill="#6a6664">Bronchopneumonia</text>
<rect x="232.4" y="565.30" width="26.80" height="6.400" fill="#f6f4f3" stroke="#dccfcb" stroke-width="0.450"/>
<text x="233.60" y="570.00" font-size="4.200" textLength="24.40" lengthAdjust="spacingAndGlyphs" fill="#6a6664">Urosepsis, fever</text>
<rect x="235" y="574.40" width="24.20" height="6.400" fill="#f6f4f3" stroke="#dccfcb" stroke-width="0.450"/>
<text x="236.20" y="579.10" font-size="4.200" textLength="21.80" lengthAdjust="spacingAndGlyphs" fill="#6a6664">Sudden death</text>
<path d="M12.600 602.100H66L70.500 605.500L66 609H12.600Z" fill="#f6d9d2"/>
<path d="M66 602.100H119.500L124 605.500L119.500 609H66L70.500 605.500Z" fill="#eeaeaa"/>
<path d="M97 595.100H244.500L248.100 598.600L244.500 602.100H97Z" fill="#d07f78"/>
<path d="M192.100 586.900H256.500L260.400 590.750L256.500 594.600H192.100Z" fill="#b4453d"/>
<text x="40" y="607.600" text-anchor="middle" font-size="4.600" fill="#5a4a48">Premotor MSA</text>
<text x="95" y="607.600" text-anchor="middle" font-size="4.600" fill="#6a3a38">Possible MSA</text>
<text x="172.500" y="600.400" text-anchor="middle" font-size="4.600" fill="#4a2220">Probable MSA</text>
<text x="225.500" y="592.600" text-anchor="middle" font-size="4.300" fill="#2a1010">Stage at which death can occur</text>
<path d="M68.800 609V613.500M126.500 609V613.500M184.300 609V613.500M242.300 609V613.500" stroke="#9a9a9a" stroke-width="0.500"/>
<text x="68.8" y="617.300" text-anchor="middle" font-size="3.400" fill="#9a9a9a">0</text>
<text x="126.5" y="617.300" text-anchor="middle" font-size="3.400" fill="#9a9a9a">3</text>
<text x="184.3" y="617.300" text-anchor="middle" font-size="3.400" fill="#9a9a9a">6</text>
<text x="242.3" y="617.300" text-anchor="middle" font-size="3.400" fill="#9a9a9a">9</text>
<text x="165" y="622.600" text-anchor="middle" font-size="3.600" fill="#a0a0a0">Years</text>
<text x="14.500" y="614.700" font-size="3.500" font-weight="bold" fill="#111" textLength="78.500" lengthAdjust="spacingAndGlyphs">Fanciulli A, Wenning GK. N Engl J Med 2015;372:249-263</text>
<path d="M12 626.600H263" stroke="#e4e4e4" stroke-width="0.600"/>
</svg>

<!-- UK map and MSA bioresources flowchart -->
<svg style="left:270px;top:360px" width="280" height="275" viewBox="270 360 280 275">
<defs><filter id="glo1" x="-30%" y="-30%" width="160%" height="160%"><feGaussianBlur stdDeviation="8.5"/></filter>
<filter id="glo2" x="-20%" y="-20%" width="140%" height="140%"><feGaussianBlur stdDeviation="2.2"/></filter>
<linearGradient id="fadeV" gradientUnits="userSpaceOnUse" x1="0" y1="396" x2="0" y2="636"><stop offset="0" stop-color="#000"/><stop offset=".07" stop-color="#fff"/><stop offset=".9" stop-color="#fff"/><stop offset="1" stop-color="#000"/></linearGradient>
<mask id="mapmask" maskUnits="userSpaceOnUse" x="280" y="390" width="270" height="250"><rect x="280" y="390" width="270" height="250" fill="url(#fadeV)"/></mask>
<g id="pin"><path d="M0 0C-1.200 -3.200 -4.300 -5.600 -4.300 -9A4.300 4.300 0 0 1 4.300 -9C4.300 -5.600 1.200 -3.200 0 0Z"/><circle cx="0" cy="-9" r="1.500" fill="#fff"/></g>
</defs>
<g mask="url(#mapmask)">
<path d="M438.8 416.2L438.0 421.0L430.9 428.6L426.6 435.1L429.3 434.6L424.1 443.4L428.2 441.0L435.5 438.1L451.4 438.6L454.1 443.4L450.4 451.7L445.8 462.4L442.1 468.4L439.4 468.6L444.2 472.4L437.8 476.7L434.0 478.6L442.7 477.7L449.8 481.5L451.4 484.6L453.9 486.9L457.0 495.7L458.6 502.6L461.6 510.3L468.6 515.0L475.2 523.8L473.7 529.1L477.7 536.7L470.0 533.8L475.6 536.7L480.5 547.1L478.7 553.3L481.2 555.2L482.4 551.4L492.3 552.1L497.8 560.0L498.0 562.9L496.0 570.7L492.9 575.5L490.5 579.5L484.9 585.0L479.9 586.7L485.5 587.6L493.6 588.8L492.6 595.2L488.2 600.2L483.4 601.7L479.3 604.3L474.5 602.4L466.4 604.7L462.6 602.8L458.8 600.5L452.9 604.7L452.0 607.6L445.8 609.5L439.9 604.7L434.0 607.4L431.1 616.6L424.9 613.3L413.6 618.5L411.7 622.8L405.4 620.2L408.2 616.6L413.2 611.9L414.9 608.8L420.0 597.6L424.1 596.2L425.1 593.1L433.2 593.1L439.0 592.8L439.2 589.8L442.7 586.2L445.2 581.9L439.2 585.0L436.9 587.1L430.3 586.9L427.2 583.6L422.9 584.8L421.6 580.7L417.9 582.1L413.6 583.3L410.4 576.7L414.4 573.8L418.2 571.2L425.5 564.5L426.0 557.1L425.0 552.4L417.2 555.5L420.1 551.7L423.1 547.1L418.5 543.1L422.5 540.5L425.6 544.1L428.5 542.4L432.9 542.9L438.4 545.2L436.6 541.0L439.0 540.5L440.9 542.6L438.8 535.0L440.9 532.9L438.4 531.0L439.0 528.3L441.5 524.3L436.1 524.3L431.2 514.5L432.1 511.2L438.4 504.1L435.3 503.6L431.6 506.0L426.0 508.1L421.6 510.5L416.7 506.5L415.9 511.7L412.7 506.7L412.2 502.9L413.8 504.8L415.9 497.2L418.7 491.9L416.4 487.6L417.2 480.3L421.0 481.5L417.5 479.1L415.1 480.3L411.7 482.2L415.1 473.1L408.9 478.4L409.1 482.4L406.8 492.9L404.5 496.0L405.1 492.9L405.9 486.9L407.3 476.9L408.4 469.3L413.0 459.6L405.5 466.0L399.1 461.7L403.9 455.3L405.3 448.6L404.0 445.0L405.5 437.9L409.9 433.9L409.5 425.8L414.2 416.7L421.4 418.4L426.4 417.2L432.6 417.2L434.4 415.5ZM398.7 419.6L399.3 426.7L394.4 435.1L389.4 437.4L388.2 431.5L390.6 424.3ZM387.5 439.8L386.9 452.9L383.8 452.9L383.2 441.0ZM398.1 438.6L403.0 448.1L405.5 451.7L401.8 454.8L396.2 450.5L392.5 444.6ZM400.6 463.6L406.1 468.4L403.0 471.9L397.5 471.9L398.1 467.2ZM400.6 480.3L405.5 476.7L402.4 483.8L401.2 488.1L396.2 486.2L397.5 481.5ZM410.5 486.2L413.0 488.6L412.3 492.6L409.9 491.0ZM421.6 517.2L422.3 521.9L417.3 525.5L417.9 520.7ZM457.0 605.7L462.6 604.7L461.3 608.1ZM435.3 405.3L441.5 407.7L440.2 411.3L434.7 408.9ZM381.6 498.4L387.5 502.3L391.3 502.1L398.0 501.6L402.7 509.8L401.3 514.5L406.3 514.1L407.4 519.9L404.7 523.3L401.6 523.8L398.7 527.6L395.3 528.1L397.6 532.4L396.6 534.1L398.9 541.4L397.3 542.5L400.0 550.2L398.3 553.9L397.3 559.0L395.2 564.0L395.3 567.4L387.5 568.5L379.2 569.6L375.2 572.6L369.6 575.4L366.1 579.7L360.5 581.2L354.8 582.5L348.8 582.9L353.8 578.0L343.7 580.1L351.8 573.9L341.7 574.3L349.1 568.5L340.2 568.9L343.7 564.6L348.4 565.3L347.1 562.0L359.8 558.2L347.3 559.0L353.8 550.6L356.3 546.3L359.1 543.8L343.3 541.0L347.7 536.2L351.8 532.4L343.1 528.7L346.4 521.6L349.1 521.0L357.1 522.3L365.8 521.6L370.5 514.7L362.7 513.7L369.4 503.3L373.9 501.8L378.6 500.8Z" fill="#9fb4c6" stroke="#9fb4c6" stroke-width="13" stroke-linejoin="round" filter="url(#glo1)" opacity=".72"/>
<path d="M438.8 416.2L438.0 421.0L430.9 428.6L426.6 435.1L429.3 434.6L424.1 443.4L428.2 441.0L435.5 438.1L451.4 438.6L454.1 443.4L450.4 451.7L445.8 462.4L442.1 468.4L439.4 468.6L444.2 472.4L437.8 476.7L434.0 478.6L442.7 477.7L449.8 481.5L451.4 484.6L453.9 486.9L457.0 495.7L458.6 502.6L461.6 510.3L468.6 515.0L475.2 523.8L473.7 529.1L477.7 536.7L470.0 533.8L475.6 536.7L480.5 547.1L478.7 553.3L481.2 555.2L482.4 551.4L492.3 552.1L497.8 560.0L498.0 562.9L496.0 570.7L492.9 575.5L490.5 579.5L484.9 585.0L479.9 586.7L485.5 587.6L493.6 588.8L492.6 595.2L488.2 600.2L483.4 601.7L479.3 604.3L474.5 602.4L466.4 604.7L462.6 602.8L458.8 600.5L452.9 604.7L452.0 607.6L445.8 609.5L439.9 604.7L434.0 607.4L431.1 616.6L424.9 613.3L413.6 618.5L411.7 622.8L405.4 620.2L408.2 616.6L413.2 611.9L414.9 608.8L420.0 597.6L424.1 596.2L425.1 593.1L433.2 593.1L439.0 592.8L439.2 589.8L442.7 586.2L445.2 581.9L439.2 585.0L436.9 587.1L430.3 586.9L427.2 583.6L422.9 584.8L421.6 580.7L417.9 582.1L413.6 583.3L410.4 576.7L414.4 573.8L418.2 571.2L425.5 564.5L426.0 557.1L425.0 552.4L417.2 555.5L420.1 551.7L423.1 547.1L418.5 543.1L422.5 540.5L425.6 544.1L428.5 542.4L432.9 542.9L438.4 545.2L436.6 541.0L439.0 540.5L440.9 542.6L438.8 535.0L440.9 532.9L438.4 531.0L439.0 528.3L441.5 524.3L436.1 524.3L431.2 514.5L432.1 511.2L438.4 504.1L435.3 503.6L431.6 506.0L426.0 508.1L421.6 510.5L416.7 506.5L415.9 511.7L412.7 506.7L412.2 502.9L413.8 504.8L415.9 497.2L418.7 491.9L416.4 487.6L417.2 480.3L421.0 481.5L417.5 479.1L415.1 480.3L411.7 482.2L415.1 473.1L408.9 478.4L409.1 482.4L406.8 492.9L404.5 496.0L405.1 492.9L405.9 486.9L407.3 476.9L408.4 469.3L413.0 459.6L405.5 466.0L399.1 461.7L403.9 455.3L405.3 448.6L404.0 445.0L405.5 437.9L409.9 433.9L409.5 425.8L414.2 416.7L421.4 418.4L426.4 417.2L432.6 417.2L434.4 415.5ZM398.7 419.6L399.3 426.7L394.4 435.1L389.4 437.4L388.2 431.5L390.6 424.3ZM387.5 439.8L386.9 452.9L383.8 452.9L383.2 441.0ZM398.1 438.6L403.0 448.1L405.5 451.7L401.8 454.8L396.2 450.5L392.5 444.6ZM400.6 463.6L406.1 468.4L403.0 471.9L397.5 471.9L398.1 467.2ZM400.6 480.3L405.5 476.7L402.4 483.8L401.2 488.1L396.2 486.2L397.5 481.5ZM410.5 486.2L413.0 488.6L412.3 492.6L409.9 491.0ZM421.6 517.2L422.3 521.9L417.3 525.5L417.9 520.7ZM457.0 605.7L462.6 604.7L461.3 608.1ZM435.3 405.3L441.5 407.7L440.2 411.3L434.7 408.9ZM381.6 498.4L387.5 502.3L391.3 502.1L398.0 501.6L402.7 509.8L401.3 514.5L406.3 514.1L407.4 519.9L404.7 523.3L401.6 523.8L398.7 527.6L395.3 528.1L397.6 532.4L396.6 534.1L398.9 541.4L397.3 542.5L400.0 550.2L398.3 553.9L397.3 559.0L395.2 564.0L395.3 567.4L387.5 568.5L379.2 569.6L375.2 572.6L369.6 575.4L366.1 579.7L360.5 581.2L354.8 582.5L348.8 582.9L353.8 578.0L343.7 580.1L351.8 573.9L341.7 574.3L349.1 568.5L340.2 568.9L343.7 564.6L348.4 565.3L347.1 562.0L359.8 558.2L347.3 559.0L353.8 550.6L356.3 546.3L359.1 543.8L343.3 541.0L347.7 536.2L351.8 532.4L343.1 528.7L346.4 521.6L349.1 521.0L357.1 522.3L365.8 521.6L370.5 514.7L362.7 513.7L369.4 503.3L373.9 501.8L378.6 500.8Z" fill="#8fa6ba" stroke="#8fa6ba" stroke-width="2.500" stroke-linejoin="round" filter="url(#glo2)" opacity=".8"/>
<path d="M438.8 416.2L438.0 421.0L430.9 428.6L426.6 435.1L429.3 434.6L424.1 443.4L428.2 441.0L435.5 438.1L451.4 438.6L454.1 443.4L450.4 451.7L445.8 462.4L442.1 468.4L439.4 468.6L444.2 472.4L437.8 476.7L434.0 478.6L442.7 477.7L449.8 481.5L451.4 484.6L453.9 486.9L457.0 495.7L458.6 502.6L461.6 510.3L468.6 515.0L475.2 523.8L473.7 529.1L477.7 536.7L470.0 533.8L475.6 536.7L480.5 547.1L478.7 553.3L481.2 555.2L482.4 551.4L492.3 552.1L497.8 560.0L498.0 562.9L496.0 570.7L492.9 575.5L490.5 579.5L484.9 585.0L479.9 586.7L485.5 587.6L493.6 588.8L492.6 595.2L488.2 600.2L483.4 601.7L479.3 604.3L474.5 602.4L466.4 604.7L462.6 602.8L458.8 600.5L452.9 604.7L452.0 607.6L445.8 609.5L439.9 604.7L434.0 607.4L431.1 616.6L424.9 613.3L413.6 618.5L411.7 622.8L405.4 620.2L408.2 616.6L413.2 611.9L414.9 608.8L420.0 597.6L424.1 596.2L425.1 593.1L433.2 593.1L439.0 592.8L439.2 589.8L442.7 586.2L445.2 581.9L439.2 585.0L436.9 587.1L430.3 586.9L427.2 583.6L422.9 584.8L421.6 580.7L417.9 582.1L413.6 583.3L410.4 576.7L414.4 573.8L418.2 571.2L425.5 564.5L426.0 557.1L425.0 552.4L417.2 555.5L420.1 551.7L423.1 547.1L418.5 543.1L422.5 540.5L425.6 544.1L428.5 542.4L432.9 542.9L438.4 545.2L436.6 541.0L439.0 540.5L440.9 542.6L438.8 535.0L440.9 532.9L438.4 531.0L439.0 528.3L441.5 524.3L436.1 524.3L431.2 514.5L432.1 511.2L438.4 504.1L435.3 503.6L431.6 506.0L426.0 508.1L421.6 510.5L416.7 506.5L415.9 511.7L412.7 506.7L412.2 502.9L413.8 504.8L415.9 497.2L418.7 491.9L416.4 487.6L417.2 480.3L421.0 481.5L417.5 479.1L415.1 480.3L411.7 482.2L415.1 473.1L408.9 478.4L409.1 482.4L406.8 492.9L404.5 496.0L405.1 492.9L405.9 486.9L407.3 476.9L408.4 469.3L413.0 459.6L405.5 466.0L399.1 461.7L403.9 455.3L405.3 448.6L404.0 445.0L405.5 437.9L409.9 433.9L409.5 425.8L414.2 416.7L421.4 418.4L426.4 417.2L432.6 417.2L434.4 415.5ZM398.7 419.6L399.3 426.7L394.4 435.1L389.4 437.4L388.2 431.5L390.6 424.3ZM387.5 439.8L386.9 452.9L383.8 452.9L383.2 441.0ZM398.1 438.6L403.0 448.1L405.5 451.7L401.8 454.8L396.2 450.5L392.5 444.6ZM400.6 463.6L406.1 468.4L403.0 471.9L397.5 471.9L398.1 467.2ZM400.6 480.3L405.5 476.7L402.4 483.8L401.2 488.1L396.2 486.2L397.5 481.5ZM410.5 486.2L413.0 488.6L412.3 492.6L409.9 491.0ZM421.6 517.2L422.3 521.9L417.3 525.5L417.9 520.7ZM457.0 605.7L462.6 604.7L461.3 608.1ZM435.3 405.3L441.5 407.7L440.2 411.3L434.7 408.9ZM381.6 498.4L387.5 502.3L391.3 502.1L398.0 501.6L402.7 509.8L401.3 514.5L406.3 514.1L407.4 519.9L404.7 523.3L401.6 523.8L398.7 527.6L395.3 528.1L397.6 532.4L396.6 534.1L398.9 541.4L397.3 542.5L400.0 550.2L398.3 553.9L397.3 559.0L395.2 564.0L395.3 567.4L387.5 568.5L379.2 569.6L375.2 572.6L369.6 575.4L366.1 579.7L360.5 581.2L354.8 582.5L348.8 582.9L353.8 578.0L343.7 580.1L351.8 573.9L341.7 574.3L349.1 568.5L340.2 568.9L343.7 564.6L348.4 565.3L347.1 562.0L359.8 558.2L347.3 559.0L353.8 550.6L356.3 546.3L359.1 543.8L343.3 541.0L347.7 536.2L351.8 532.4L343.1 528.7L346.4 521.6L349.1 521.0L357.1 522.3L365.8 521.6L370.5 514.7L362.7 513.7L369.4 503.3L373.9 501.8L378.6 500.8Z" fill="#fdfdfe" stroke="#fdfdfe" stroke-width="0.600" stroke-linejoin="round"/>
</g>
<g stroke="#7391b6" stroke-width="1" fill="none">
<path d="M311.500 399.400V443M311.500 450.100V481.300M311.500 490.400V512"/>
<path d="M414.900 399.400V430.300M418.400 399.400V430.300M417 438.750V466.750M417 474.600V505.900"/>
<path d="M335.100 388.500L394.100 433M335.100 388.500L394.100 470M335.100 389L394.100 432"/>
<path d="M489.250 394.500L432 430.500M489.250 394.500L442 434.500M489.250 394.500L442 469"/>
<path d="M412 439L336 485.500"/>
</g>
<g fill="#7391b6">
<path d="M309.9 439.8H313.1L311.5 443Z"/>
<path d="M309.9 478.1H313.1L311.5 481.3Z"/>
<path d="M309.9 508.8H313.1L311.5 512Z"/>
<path d="M413.29999999999995 427.1H416.5L414.9 430.3Z"/>
<path d="M415.4 463.55H418.6L417 466.75Z"/>
<path d="M415.4 502.7H418.6L417 505.9Z"/>
<path d="M336 485.500L339.600 484.800L338.300 482.500Z"/>
</g>
<defs><linearGradient id="pch" x1="0" y1="0" x2="0" y2="1"><stop offset="0" stop-color="#fde3c4"/><stop offset="1" stop-color="#f8c592"/></linearGradient>
<linearGradient id="grn" x1="0" y1="0" x2="0" y2="1"><stop offset="0" stop-color="#a3cc52"/><stop offset="1" stop-color="#7fae32"/></linearGradient></defs>
<rect x="287.35" y="387.1" width="47.75" height="12.30" fill="#c2322e"/>
<text x="311.20" y="395.10" font-size="5.1" font-weight="bold" text-anchor="middle" fill="#f6e4e0" style="font-family:'DejaVu Sans',sans-serif">Longitudinal</text>
<rect x="394.6" y="387.1" width="47.75" height="12.30" fill="#7a55b2"/>
<text x="418.50" y="395.10" font-size="5.1" font-weight="bold" text-anchor="middle" fill="#ece4f6" style="font-family:'DejaVu Sans',sans-serif">Crossectional</text>
<rect x="489.25" y="387.1" width="48.15" height="12.30" fill="url(#grn)"/>
<text x="513.30" y="395.10" font-size="5.1" font-weight="bold" text-anchor="middle" fill="#eaf4d4" style="font-family:'DejaVu Sans',sans-serif">Controls</text>
<rect x="313.6" y="410.4" width="32.90" height="6.00" fill="#fff" stroke="#7f7f7f" stroke-width="0.5"/>
<text x="330.05" y="414.70" font-size="3.45" font-weight="bold" text-anchor="middle" fill="#111" style="font-family:'DejaVu Sans',sans-serif">22 participants</text>
<rect x="313.6" y="460.1" width="32.90" height="6.30" fill="#fff" stroke="#7f7f7f" stroke-width="0.5"/>
<text x="330.05" y="464.55" font-size="3.45" font-weight="bold" text-anchor="middle" fill="#111" style="font-family:'DejaVu Sans',sans-serif">21 participants</text>
<rect x="313.6" y="493.1" width="32.90" height="9.30" fill="#fff" stroke="#7f7f7f" stroke-width="0.5"/>
<text x="330.05" y="499.05" font-size="3.45" font-weight="bold" text-anchor="middle" fill="#111" style="font-family:'DejaVu Sans',sans-serif">16 participants</text>
<rect x="313.6" y="524.3" width="32.90" height="9.10" fill="#fff" stroke="#7f7f7f" stroke-width="0.5"/>
<text x="330.05" y="530.15" font-size="3.45" font-weight="bold" text-anchor="middle" fill="#111" style="font-family:'DejaVu Sans',sans-serif">16 participants</text>
<rect x="420.65" y="402" width="32.75" height="6.10" fill="#fff" stroke="#7f7f7f" stroke-width="0.5"/>
<text x="437.02" y="406.35" font-size="3.45" font-weight="bold" text-anchor="middle" fill="#111" style="font-family:'DejaVu Sans',sans-serif">46 participants</text>
<rect x="501.5" y="402" width="35.90" height="6.10" fill="#fff" stroke="#7f7f7f" stroke-width="0.5"/>
<text x="519.45" y="406.35" font-size="3.45" font-weight="bold" text-anchor="middle" fill="#111" style="font-family:'DejaVu Sans',sans-serif">23 participants</text>
<rect x="420.65" y="439.6" width="32.75" height="8.80" fill="#fff" stroke="#7f7f7f" stroke-width="0.5"/>
<text x="437.02" y="445.30" font-size="3.45" font-weight="bold" text-anchor="middle" fill="#111" style="font-family:'DejaVu Sans',sans-serif">52 participants</text>
<rect x="287.35" y="443.1" width="48.30" height="7.00" fill="url(#pch)" stroke="#f2c79c" stroke-width="0.4"/>
<text x="311.50" y="447.85" font-size="3.4" font-weight="bold" text-anchor="middle" fill="#111" style="font-family:'DejaVu Sans',sans-serif">Clinical follow-up</text>
<rect x="287.35" y="481.3" width="48.30" height="9.10" fill="url(#pch)" stroke="#f2c79c" stroke-width="0.4"/>
<text x="311.50" y="487.10" font-size="3.4" font-weight="bold" text-anchor="middle" fill="#111" style="font-family:'DejaVu Sans',sans-serif">Neuroimaging</text>
<rect x="394.1" y="430.35" width="47.90" height="8.40" fill="url(#pch)" stroke="#f2c79c" stroke-width="0.4"/>
<text x="418.05" y="435.80" font-size="3.4" font-weight="bold" text-anchor="middle" fill="#111" style="font-family:'DejaVu Sans',sans-serif">Natural History</text>
<rect x="394.1" y="466.75" width="47.90" height="7.85" fill="url(#pch)" stroke="#f2c79c" stroke-width="0.4"/>
<text x="418.05" y="471.93" font-size="3.4" font-weight="bold" text-anchor="middle" fill="#111" style="font-family:'DejaVu Sans',sans-serif">MSA Biobank</text>
<rect x="287.35" y="512" width="48.30" height="9.65" fill="#fff" stroke="#8a8a8a" stroke-width="0.5"/>
<text x="311.50" y="517.50" font-size="3.4" font-weight="bold" text-anchor="middle" fill="#111" style="font-family:'DejaVu Sans',sans-serif">Neuropsychology</text>
<rect x="400.750" y="505.900" width="36" height="35.400" fill="#fff" fill-opacity=".55" stroke="#6a6a6a" stroke-width="0.500"/>
<text x="402.20" y="510.10" font-size="3.8" font-weight="bold" text-anchor="start" fill="#111" style="font-family:'DejaVu Sans',sans-serif">DNA</text>
<text x="402.20" y="514.85" font-size="3.8" font-weight="bold" text-anchor="start" fill="#111" style="font-family:'DejaVu Sans',sans-serif">RNA</text>
<text x="402.20" y="519.60" font-size="3.8" font-weight="bold" text-anchor="start" fill="#111" style="font-family:'DejaVu Sans',sans-serif">Lymphocytes</text>
<text x="402.20" y="524.35" font-size="3.8" font-weight="bold" text-anchor="start" fill="#111" style="font-family:'DejaVu Sans',sans-serif">Plasma</text>
<text x="402.20" y="529.10" font-size="3.8" font-weight="bold" text-anchor="start" fill="#111" style="font-family:'DejaVu Sans',sans-serif">Serum</text>
<text x="402.20" y="533.85" font-size="3.8" font-weight="bold" text-anchor="start" fill="#111" style="font-family:'DejaVu Sans',sans-serif">CSF</text>
<text x="402.20" y="538.60" font-size="3.8" font-weight="bold" text-anchor="start" fill="#111" style="font-family:'DejaVu Sans',sans-serif">Fibroblasts</text>
<text x="291.90" y="373.65" font-size="4.9" font-weight="bold" text-anchor="start" fill="#111" textLength="59" lengthAdjust="spacingAndGlyphs" style="font-family:'DejaVu Sans',sans-serif">UCL MSA bioresources</text>
<ellipse cx="463.6" cy="496.2" rx="6.200" ry="2.800" fill="#c3cad8" opacity=".85" transform="rotate(-12 463.6 496.2)"/>
<ellipse cx="454.15" cy="533.4499999999999" rx="6.200" ry="2.800" fill="#c3cad8" opacity=".85" transform="rotate(-12 454.15 533.4499999999999)"/>
<ellipse cx="488.1" cy="568.8" rx="6.200" ry="2.800" fill="#c3cad8" opacity=".85" transform="rotate(-12 488.1 568.8)"/>
<ellipse cx="450.65" cy="580.1999999999999" rx="6.200" ry="2.800" fill="#c3cad8" opacity=".85" transform="rotate(-12 450.65 580.1999999999999)"/>
<ellipse cx="465.9" cy="579.65" rx="6.200" ry="2.800" fill="#c3cad8" opacity=".85" transform="rotate(-12 465.9 579.65)"/>
<ellipse cx="483.4" cy="600.3" rx="6.200" ry="2.800" fill="#c3cad8" opacity=".85" transform="rotate(-12 483.4 600.3)"/>
<ellipse cx="481" cy="582" rx="7.500" ry="3.200" fill="#bcc0cc" opacity=".9" transform="rotate(-12 481 582)"/>
<use href="#pin" x="454.6" y="498.4" fill="#4169a6"/>
<use href="#pin" x="445.15" y="535.65" fill="#4169a6"/>
<use href="#pin" x="479.1" y="571" fill="#4169a6"/>
<use href="#pin" x="441.65" y="582.4" fill="#4169a6"/>
<use href="#pin" x="456.9" y="581.85" fill="#4169a6"/>
<use href="#pin" x="474.4" y="602.5" fill="#4169a6"/>
<use href="#pin" transform="translate(470 585) scale(1.220)" fill="#a3121a"/>
<use href="#pin" transform="translate(451.100 622.500) scale(.36)" fill="#3d63a2"/>
<text x="455.65" y="622.10" font-size="4.0" font-weight="bold" text-anchor="start" fill="#111" textLength="37" lengthAdjust="spacingAndGlyphs" style="font-family:'DejaVu Sans',sans-serif">PROSPECT-M sites</text>
</svg>

<!-- automated parcellation brains -->
<svg style="left:550px;top:375px" width="250" height="60" viewBox="550 375 250 60">
<defs>
<clipPath id="br1"><path d="M560.500 409C559 398 566 386 580 382.500C594 379.500 609 383 614 392C618 399 617 406 612 409.500L606 411L604 415C598 420 590 421.500 580 420.500L574 414L566 416C562 415 561 412 560.500 409Z"/></clipPath>
<clipPath id="br2"><path d="M622 404C622 394 630 385 644 382.500C658 380 672 384 677 392C681 399 680 408 675 414C668 419 660 417 656 415L640 419.500C634 418 633 412 634 408L626 409C623 408 622 406 622 404Z"/></clipPath>
<clipPath id="br3"><path d="M692 382C703 381 710 392 710.600 404C711 416 704 426 693 426.200C690 420 690 388 692 382Z"/></clipPath>
<clipPath id="br4"><path d="M736 382C726 381 717.500 391 717 404C716.500 416 724 426 735.500 426.200L736.600 412L733 406L736.600 399Z"/></clipPath>
<clipPath id="br5"><path d="M741.500 396L760 392L781.300 391.300V413L768 418L754 417.500L750 410Z"/></clipPath>
</defs>
<g clip-path="url(#br1)">
<rect x="558" y="378" width="62" height="46" fill="#c9b830"/>
<path d="M558 400L570 384L584 380L588 388L576 402L566 404Z" fill="#e874cc"/>
<path d="M558 398L568 392L578 400L572 412L558 412Z" fill="#e6d44e"/>
<path d="M558 408L574 409L576 418L560 420Z" fill="#d8a030"/>
<path d="M586 381L602 381L604 392L588 392Z" fill="#d6c83a"/>
<path d="M604 388L618 390L618 410L604 410Z" fill="#bfae28"/>
<path d="M574 412L590 414L606 410L606 422L578 424Z" fill="#7a86e4"/>
<path d="M588 416L606 412L606 424L586 424Z" fill="#38c6d8"/>
<path d="M590 408L600 406L602 413L592 414Z" fill="#96a024"/>
<path d="M579.500 402C579 396 586 395.500 592 396C598 396.500 604 397 603.600 402C603.300 406 599 406 598 409L590 410L588 405L582 406Z" fill="#fff" stroke="#9aa8e8" stroke-width="0.400"/>
</g>
<g clip-path="url(#br2)">
<rect x="620" y="378" width="64" height="46" fill="#c87a3a"/>
<path d="M642 380L652 380L646 404L634 404Z" fill="#e89a5c"/>
<path d="M652 380L658 381L650 406L645 405Z" fill="#f4b4e6"/>
<path d="M658 381L668 384L664 404L651 406Z" fill="#b85cc8"/>
<path d="M668 383L678 390L672 400L665 400Z" fill="#c8a4f0"/>
<path d="M672 394L682 396L680 410L670 406Z" fill="#d86a68"/>
<path d="M666 404L680 408L674 418L664 416Z" fill="#f6a8cc"/>
<path d="M628 400L644 397L646 405L630 408Z" fill="#f8d2a4"/>
<path d="M622 404L630 404L630 410L622 410Z" fill="#58a83a"/>
<path d="M634 407L662 401.500L668 406L665 415L640 421L633 416Z" fill="#24b6c8"/>
<path d="M640 411L664 405L665 409L641 415Z" fill="#1a9cb0"/>
</g>
<g clip-path="url(#br3)">
<rect x="688" y="380" width="24" height="48" fill="#c88a24"/>
<path d="M688 394L712 390L712 402L688 408Z" fill="#d08244"/>
<path d="M688 408L712 400L712 405L688 416Z" fill="#f2a6e2"/>
<path d="M700 408L712 404L712 418L702 420Z" fill="#b052c8"/>
<path d="M688 414L702 408L702 420L690 424Z" fill="#c294f0"/>
<path d="M690 422L712 416L712 428L690 428Z" fill="#e07264"/>
</g>
<g clip-path="url(#br4)">
<rect x="715" y="380" width="24" height="48" fill="#22a8a8"/>
<path d="M715 380H739V392L722 394L715 396Z" fill="#62c244"/>
<path d="M729 381H739V394H729Z" fill="#c2da34"/>
<path d="M723 396L732 396L733 412L724 414Z" fill="#8284ea"/>
<path d="M732 394H739V414H732Z" fill="#8aa82a"/>
<path d="M717 413L733 412L733 428H717Z" fill="#c89224"/>
<path d="M731 412H739V428H731Z" fill="#d8c234"/>
</g>
<g clip-path="url(#br5)">
<rect x="740" y="390" width="44" height="30" fill="#22b8a0"/>
<path d="M740 390L756 390L756 399L746 402Z" fill="#22a86a"/>
<path d="M756 390L768 390L768 398L756 399Z" fill="#a4eaa4"/>
<path d="M768 390L784 390L784 400L768 398Z" fill="#32c284"/>
<path d="M756 402L772 398L776 404L762 410Z" fill="#188a8a"/>
<path d="M772 400L784 398L784 414L774 412Z" fill="#a4d2f2"/>
<path d="M750 410L772 406L774 414L756 420Z" fill="#4684e2"/>
<path d="M762 414L776 410L778 418L764 420Z" fill="#74b2ea"/>
</g>
<g fill="none" stroke="#7a6a30" stroke-width="0.300" opacity=".6">
<path d="M560.500 409C559 398 566 386 580 382.500C594 379.500 609 383 614 392C618 399 617 406 612 409.500L606 411L604 415C598 420 590 421.500 580 420.500L574 414L566 416C562 415 561 412 560.500 409Z"/>
<path d="M622 404C622 394 630 385 644 382.500C658 380 672 384 677 392C681 399 680 408 675 414C668 419 660 417 656 415L640 419.500C634 418 633 412 634 408L626 409C623 408 622 406 622 404Z"/>
<path d="M692 382C703 381 710 392 710.600 404C711 416 704 426 693 426.200C690 420 690 388 692 382Z"/>
<path d="M736 382C726 381 717.500 391 717 404C716.500 416 724 426 735.500 426.200L736.600 412L733 406L736.600 399Z"/>
</g>
<text x="575" y="394" font-size="2" text-anchor="middle" fill="#2a2a2a">G_par</text>
<text x="594" y="386" font-size="2" text-anchor="middle" fill="#2a2a2a">G_fr_s</text>
<text x="609" y="398" font-size="2" text-anchor="middle" fill="#2a2a2a">G_cing</text>
<text x="596" y="419" font-size="2" text-anchor="middle" fill="#2a2a2a">G_temp</text>
<text x="556" y="401" font-size="2" text-anchor="middle" fill="#2a2a2a">Pole</text>
<text x="563" y="419" font-size="2" text-anchor="middle" fill="#2a2a2a">S_occ</text>
<text x="633" y="392" font-size="2" text-anchor="middle" fill="#2a2a2a">G_fr_m</text>
<text x="648" y="397" font-size="2" text-anchor="middle" fill="#2a2a2a">G_pre</text>
<text x="661" y="392" font-size="2" text-anchor="middle" fill="#2a2a2a">G_post</text>
<text x="652" y="411" font-size="2" text-anchor="middle" fill="#2a2a2a">G_t_sup</text>
<text x="676" y="404" font-size="2" text-anchor="middle" fill="#2a2a2a">G_occ</text>
<text x="699" y="389" font-size="2" text-anchor="middle" fill="#2a2a2a">G_fr</text>
<text x="698" y="404" font-size="2" text-anchor="middle" fill="#2a2a2a">S_c</text>
<text x="704" y="413" font-size="2" text-anchor="middle" fill="#2a2a2a">G_par</text>
<text x="726" y="388" font-size="2" text-anchor="middle" fill="#2a2a2a">G_orb</text>
<text x="726" y="405" font-size="2" text-anchor="middle" fill="#2a2a2a">G_fus</text>
<text x="724" y="420" font-size="2" text-anchor="middle" fill="#2a2a2a">G_occ</text>
<text x="749" y="396" font-size="2" text-anchor="middle" fill="#2a2a2a">Ins_a</text>
<text x="762" y="395" font-size="2" text-anchor="middle" fill="#2a2a2a">Ins_s</text>
<text x="775" y="395" font-size="2" text-anchor="middle" fill="#2a2a2a">Ins_p</text>
<text x="766" y="405" font-size="2" text-anchor="middle" fill="#2a2a2a">S_circ</text>
<text x="766" y="415" font-size="2" text-anchor="middle" fill="#2a2a2a">G_ins</text>
<text x="682" y="401" font-size="2" text-anchor="middle" fill="#2a2a2a">Lat</text>
<text x="714" y="396" font-size="2" text-anchor="middle" fill="#2a2a2a">Inf</text>
</svg>

<!-- radial region charts -->
<svg style="left:540px;top:440px" width="260" height="290" viewBox="540 440 260 290">
<circle cx="657" cy="517" r="50" fill="#fff"/>
<path d="M657 517L707.00 517.00A50.00 50.00 0 0 0 706.73 511.77Z" fill="#cacaca"/>
<path d="M657 517L706.73 511.77A50.00 50.00 0 0 0 705.91 506.60Z" fill="#cacaca"/>
<path d="M657 517L701.99 507.44A46.00 46.00 0 0 0 700.75 502.79Z" fill="#82d282"/>
<path d="M657 517L700.75 502.79A46.00 46.00 0 0 0 699.02 498.29Z" fill="#82d282"/>
<path d="M657 517L702.68 496.66A50.00 50.00 0 0 0 700.30 492.00Z" fill="#cacaca"/>
<path d="M657 517L695.97 494.50A45.00 45.00 0 0 0 693.41 490.55Z" fill="#82d282"/>
<path d="M657 517L693.41 490.55A45.00 45.00 0 0 0 690.44 486.89Z" fill="#82d282"/>
<path d="M657 517L692.67 484.88A48.00 48.00 0 0 0 689.12 481.33Z" fill="#82d282"/>
<path d="M657 517L689.12 481.33A48.00 48.00 0 0 0 685.21 478.17Z" fill="#82d282"/>
<path d="M657 517L683.45 480.59A45.00 45.00 0 0 0 679.50 478.03Z" fill="#82d282"/>
<path d="M657 517L682.00 473.70A50.00 50.00 0 0 0 677.34 471.32Z" fill="#cacaca"/>
<path d="M657 517L677.34 471.32A50.00 50.00 0 0 0 672.45 469.45Z" fill="#cacaca"/>
<path d="M657 517L672.45 469.45A50.00 50.00 0 0 0 667.40 468.09Z" fill="#cacaca"/>
<path d="M657 517L667.40 468.09A50.00 50.00 0 0 0 662.23 467.27Z" fill="#cacaca"/>
<path d="M657 517L662.23 467.27A50.00 50.00 0 0 0 657.00 467.00Z" fill="#cacaca"/>
<path d="M657 517L657.00 467.00A50.00 50.00 0 0 0 651.77 467.27Z" fill="#cacaca"/>
<path d="M657 517L651.77 467.27A50.00 50.00 0 0 0 646.60 468.09Z" fill="#cacaca"/>
<path d="M657 517L647.44 472.01A46.00 46.00 0 0 0 642.79 473.25Z" fill="#e26a6a"/>
<path d="M657 517L642.79 473.25A46.00 46.00 0 0 0 638.29 474.98Z" fill="#e26a6a"/>
<path d="M657 517L643.98 487.77A32.00 32.00 0 0 0 641.00 489.29Z" fill="#e26a6a"/>
<path d="M657 517L639.00 485.82A36.00 36.00 0 0 0 635.84 487.88Z" fill="#e26a6a"/>
<path d="M657 517L634.08 485.45A39.00 39.00 0 0 0 630.90 488.02Z" fill="#e26a6a"/>
<path d="M657 517L632.91 490.25A36.00 36.00 0 0 0 630.25 492.91Z" fill="#e26a6a"/>
<path d="M657 517L625.04 488.23A43.00 43.00 0 0 0 622.21 491.73Z" fill="#e26a6a"/>
<path d="M657 517L622.21 491.73A43.00 43.00 0 0 0 619.76 495.50Z" fill="#e26a6a"/>
<path d="M657 517L613.70 492.00A50.00 50.00 0 0 0 611.32 496.66Z" fill="#cacaca"/>
<path d="M657 517L611.32 496.66A50.00 50.00 0 0 0 609.45 501.55Z" fill="#cacaca"/>
<path d="M657 517L609.45 501.55A50.00 50.00 0 0 0 608.09 506.60Z" fill="#cacaca"/>
<path d="M657 517L608.09 506.60A50.00 50.00 0 0 0 607.27 511.77Z" fill="#cacaca"/>
<path d="M657 517L607.27 511.77A50.00 50.00 0 0 0 607.00 517.00Z" fill="#cacaca"/>
<path d="M657 517L624.00 517.00A33.00 33.00 0 0 0 624.18 520.45Z" fill="#f6c06c"/>
<path d="M657 517L607.27 522.23A50.00 50.00 0 0 0 608.09 527.40Z" fill="#cacaca"/>
<path d="M657 517L611.52 526.67A46.50 46.50 0 0 0 612.78 531.37Z" fill="#bccadb"/>
<path d="M657 517L612.78 531.37A46.50 46.50 0 0 0 614.52 535.91Z" fill="#f6c06c"/>
<path d="M657 517L614.52 535.91A46.50 46.50 0 0 0 616.73 540.25Z" fill="#f6c06c"/>
<path d="M657 517L613.70 542.00A50.00 50.00 0 0 0 616.55 546.39Z" fill="#cacaca"/>
<path d="M657 517L616.55 546.39A50.00 50.00 0 0 0 619.84 550.46Z" fill="#cacaca"/>
<path d="M657 517L619.84 550.46A50.00 50.00 0 0 0 623.54 554.16Z" fill="#cacaca"/>
<path d="M657 517L623.54 554.16A50.00 50.00 0 0 0 627.61 557.45Z" fill="#cacaca"/>
<path d="M657 517L627.61 557.45A50.00 50.00 0 0 0 632.00 560.30Z" fill="#cacaca"/>
<path d="M657 517L632.00 560.30A50.00 50.00 0 0 0 636.66 562.68Z" fill="#cacaca"/>
<path d="M657 517L637.48 560.85A48.00 48.00 0 0 0 642.17 562.65Z" fill="#cacaca"/>
<path d="M657 517L641.55 564.55A50.00 50.00 0 0 0 646.60 565.91Z" fill="#cacaca"/>
<path d="M657 517L646.60 565.91A50.00 50.00 0 0 0 651.77 566.73Z" fill="#cacaca"/>
<path d="M657 517L651.77 566.73A50.00 50.00 0 0 0 657.00 567.00Z" fill="#cacaca"/>
<path d="M657 517L657.00 567.00A50.00 50.00 0 0 0 662.23 566.73Z" fill="#cacaca"/>
<path d="M657 517L662.23 566.73A50.00 50.00 0 0 0 667.40 565.91Z" fill="#cacaca"/>
<path d="M657 517L667.40 565.91A50.00 50.00 0 0 0 672.45 564.55Z" fill="#cacaca"/>
<path d="M657 517L672.45 564.55A50.00 50.00 0 0 0 677.34 562.68Z" fill="#cacaca"/>
<path d="M657 517L677.34 562.68A50.00 50.00 0 0 0 682.00 560.30Z" fill="#cacaca"/>
<path d="M657 517L682.00 560.30A50.00 50.00 0 0 0 686.39 557.45Z" fill="#cacaca"/>
<path d="M657 517L686.39 557.45A50.00 50.00 0 0 0 690.46 554.16Z" fill="#cacaca"/>
<path d="M657 517L690.46 554.16A50.00 50.00 0 0 0 694.16 550.46Z" fill="#cacaca"/>
<path d="M657 517L694.16 550.46A50.00 50.00 0 0 0 697.45 546.39Z" fill="#cacaca"/>
<path d="M657 517L697.45 546.39A50.00 50.00 0 0 0 700.30 542.00Z" fill="#cacaca"/>
<path d="M657 517L700.30 542.00A50.00 50.00 0 0 0 702.68 537.34Z" fill="#cacaca"/>
<path d="M657 517L702.68 537.34A50.00 50.00 0 0 0 704.55 532.45Z" fill="#cacaca"/>
<path d="M657 517L704.55 532.45A50.00 50.00 0 0 0 705.91 527.40Z" fill="#cacaca"/>
<path d="M657 517L705.91 527.40A50.00 50.00 0 0 0 706.73 522.23Z" fill="#cacaca"/>
<path d="M657 517L706.73 522.23A50.00 50.00 0 0 0 707.00 517.00Z" fill="#cacaca"/>
<path d="M657 517L707.00 517.00M657 517L706.73 511.77M657 517L705.91 506.60M657 517L704.55 501.55M657 517L702.68 496.66M657 517L700.30 492.00M657 517L697.45 487.61M657 517L694.16 483.54M657 517L690.46 479.84M657 517L686.39 476.55M657 517L682.00 473.70M657 517L677.34 471.32M657 517L672.45 469.45M657 517L667.40 468.09M657 517L662.23 467.27M657 517L657.00 467.00M657 517L651.77 467.27M657 517L646.60 468.09M657 517L641.55 469.45M657 517L636.66 471.32M657 517L632.00 473.70M657 517L627.61 476.55M657 517L623.54 479.84M657 517L619.84 483.54M657 517L616.55 487.61M657 517L613.70 492.00M657 517L611.32 496.66M657 517L609.45 501.55M657 517L608.09 506.60M657 517L607.27 511.77M657 517L607.00 517.00M657 517L607.27 522.23M657 517L608.09 527.40M657 517L609.45 532.45M657 517L611.32 537.34M657 517L613.70 542.00M657 517L616.55 546.39M657 517L619.84 550.46M657 517L623.54 554.16M657 517L627.61 557.45M657 517L632.00 560.30M657 517L636.66 562.68M657 517L641.55 564.55M657 517L646.60 565.91M657 517L651.77 566.73M657 517L657.00 567.00M657 517L662.23 566.73M657 517L667.40 565.91M657 517L672.45 564.55M657 517L677.34 562.68M657 517L682.00 560.30M657 517L686.39 557.45M657 517L690.46 554.16M657 517L694.16 550.46M657 517L697.45 546.39M657 517L700.30 542.00M657 517L702.68 537.34M657 517L704.55 532.45M657 517L705.91 527.40M657 517L706.73 522.23" stroke="#a9a9a9" stroke-width="0.180" fill="none" opacity=".8"/>
<circle cx="657" cy="517" r="10.00" fill="none" stroke="#b0b0b0" stroke-width="0.150" opacity=".7"/>
<circle cx="657" cy="517" r="20.00" fill="none" stroke="#b0b0b0" stroke-width="0.150" opacity=".7"/>
<circle cx="657" cy="517" r="30.00" fill="none" stroke="#b0b0b0" stroke-width="0.150" opacity=".7"/>
<circle cx="657" cy="517" r="40.00" fill="none" stroke="#b0b0b0" stroke-width="0.150" opacity=".7"/>
<path d="M707.60 517.00A50.60 50.60 0 0 0 648.21 467.17" fill="none" stroke="#9edc9e" stroke-width="0.7"/>
<path d="M648.21 467.17A50.60 50.60 0 0 0 613.18 491.70" fill="none" stroke="#e47474" stroke-width="0.7"/>
<path d="M613.18 491.70A50.60 50.60 0 0 0 696.87 548.15" fill="none" stroke="#f3c070" stroke-width="0.7"/>
<path d="M696.87 548.15A50.60 50.60 0 0 0 707.60 517.00" fill="none" stroke="#4a78a8" stroke-width="0.7"/>
<text x="667.00" y="517.80" font-size="2.3" text-anchor="middle" fill="#222">0.2</text>
<text x="677.00" y="517.80" font-size="2.3" text-anchor="middle" fill="#222">0.4</text>
<text x="687.00" y="517.80" font-size="2.3" text-anchor="middle" fill="#222">0.6</text>
<text x="697.00" y="517.80" font-size="2.3" text-anchor="middle" fill="#222">0.8</text>
<text x="708.00" y="517.80" font-size="2.3" text-anchor="middle" fill="#222">1</text>
<text transform="translate(710.18 507.62) rotate(-10.0)" font-size="3.1" text-anchor="start" fill="#1c1c1c" font-weight="bold" dy="1.08">Parietal</text>
<text transform="translate(703.77 490.00) rotate(-30.0)" font-size="3.1" text-anchor="start" fill="#1c1c1c" font-weight="bold" dy="1.08">Temporal</text>
<text transform="translate(695.18 478.82) rotate(-45.0)" font-size="3.1" text-anchor="start" fill="#1c1c1c" font-weight="bold" dy="1.08">Occipital</text>
<text transform="translate(682.35 469.32) rotate(-62.0)" font-size="3.1" text-anchor="start" fill="#1c1c1c" font-weight="bold" dy="1.08">Frontal</text>
<text transform="translate(670.98 464.84) rotate(-75.0)" font-size="3.1" text-anchor="start" fill="#1c1c1c" font-weight="bold" dy="1.08">Cingulate</text>
<text transform="translate(660.77 463.13) rotate(-86.0)" font-size="3.1" text-anchor="start" fill="#1c1c1c" font-weight="bold" dy="1.08">Insula</text>
<text transform="translate(649.48 463.53) rotate(82.0)" font-size="3.1" text-anchor="end" fill="#1c1c1c" font-weight="bold" dy="1.08">Vermis</text>
<text transform="translate(643.94 464.60) rotate(76.0)" font-size="3.1" text-anchor="end" fill="#1c1c1c" font-weight="bold" dy="1.08">Lobules VIII-X</text>
<text transform="translate(635.90 467.29) rotate(67.0)" font-size="3.1" text-anchor="end" fill="#1c1c1c" font-weight="bold" dy="1.08">Lobules VI-VII</text>
<text transform="translate(628.38 471.21) rotate(58.0)" font-size="3.1" text-anchor="end" fill="#1c1c1c" font-weight="bold" dy="1.08">Vermal Lobules I-V</text>
<text transform="translate(622.29 475.63) rotate(50.0)" font-size="3.1" text-anchor="end" fill="#1c1c1c" font-weight="bold" dy="1.08">Cerebellar White Matter</text>
<text transform="translate(614.45 483.75) rotate(38.0)" font-size="3.1" text-anchor="end" fill="#1c1c1c" font-weight="bold" dy="1.08">Cerebellar Exterior</text>
<text transform="translate(607.67 495.04) rotate(24.0)" font-size="3.1" text-anchor="end" fill="#1c1c1c" font-weight="bold" dy="1.08">Amygdala</text>
<text transform="translate(603.40 510.42) rotate(7.0)" font-size="3.1" text-anchor="end" fill="#1c1c1c" font-weight="bold" dy="1.08">Basal Forebrain</text>
<text transform="translate(603.21 521.71) rotate(-5.0)" font-size="3.1" text-anchor="end" fill="#1c1c1c" font-weight="bold" dy="1.08">Brainstem</text>
<text transform="translate(604.38 529.15) rotate(-13.0)" font-size="3.1" text-anchor="end" fill="#1c1c1c" font-weight="bold" dy="1.08">Caudate</text>
<text transform="translate(608.06 539.82) rotate(-25.0)" font-size="3.1" text-anchor="end" fill="#1c1c1c" font-weight="bold" dy="1.08">Ventral DC</text>
<text transform="translate(615.63 551.71) rotate(-40.0)" font-size="3.1" text-anchor="end" fill="#1c1c1c" font-weight="bold" dy="1.08">Pallidum</text>
<text transform="translate(626.80 561.77) rotate(-56.0)" font-size="3.1" text-anchor="end" fill="#1c1c1c" font-weight="bold" dy="1.08">Putamen</text>
<text transform="translate(638.53 567.74) rotate(-70.0)" font-size="3.1" text-anchor="end" fill="#1c1c1c" font-weight="bold" dy="1.08">Thalamus</text>
<text transform="translate(654.17 570.93) rotate(-87.0)" font-size="3.1" text-anchor="end" fill="#1c1c1c" font-weight="bold" dy="1.08">Hippocampus</text>
<text transform="translate(669.15 569.62) rotate(-283.0)" font-size="3.1" text-anchor="start" fill="#1c1c1c" font-weight="bold" dy="1.08">Accumbens</text>
<text transform="translate(681.52 565.11) rotate(-297.0)" font-size="3.1" text-anchor="start" fill="#1c1c1c" font-weight="bold" dy="1.08">Accumbens Area</text>
<text transform="translate(693.13 557.13) rotate(-312.0)" font-size="3.1" text-anchor="start" fill="#1c1c1c" font-weight="bold" dy="1.08">Frontal</text>
<text transform="translate(701.77 547.20) rotate(-326.0)" font-size="3.1" text-anchor="start" fill="#1c1c1c" font-weight="bold" dy="1.08">Temporal</text>
<text transform="translate(706.33 538.96) rotate(-336.0)" font-size="3.1" text-anchor="start" fill="#1c1c1c" font-weight="bold" dy="1.08">Parietal</text>
<text transform="translate(708.06 534.58) rotate(-341.0)" font-size="3.1" text-anchor="start" fill="#1c1c1c" font-weight="bold" dy="1.08">Occipital</text>
<text transform="translate(709.62 529.15) rotate(-347.0)" font-size="3.1" text-anchor="start" fill="#1c1c1c" font-weight="bold" dy="1.08">Cingulate</text>
<text transform="translate(710.79 521.71) rotate(-355.0)" font-size="3.1" text-anchor="start" fill="#1c1c1c" font-weight="bold" dy="1.08">Insula</text>
<circle cx="607.1" cy="649.9" r="40" fill="#fff"/>
<path d="M607.1 649.9L645.90 649.90A38.80 38.80 0 0 0 645.69 645.84Z" fill="#82d282"/>
<path d="M607.1 649.9L645.69 645.84A38.80 38.80 0 0 0 645.05 641.83Z" fill="#82d282"/>
<path d="M607.1 649.9L646.23 641.58A40.00 40.00 0 0 0 645.14 637.54Z" fill="#cacaca"/>
<path d="M607.1 649.9L645.14 637.54A40.00 40.00 0 0 0 643.64 633.63Z" fill="#cacaca"/>
<path d="M607.1 649.9L643.64 633.63A40.00 40.00 0 0 0 641.74 629.90Z" fill="#cacaca"/>
<path d="M607.1 649.9L641.74 629.90A40.00 40.00 0 0 0 639.46 626.39Z" fill="#cacaca"/>
<path d="M607.1 649.9L639.46 626.39A40.00 40.00 0 0 0 636.83 623.13Z" fill="#cacaca"/>
<path d="M607.1 649.9L636.83 623.13A40.00 40.00 0 0 0 633.87 620.17Z" fill="#cacaca"/>
<path d="M607.1 649.9L630.65 623.74A35.20 35.20 0 0 0 627.79 621.42Z" fill="#82d282"/>
<path d="M607.1 649.9L627.79 621.42A35.20 35.20 0 0 0 624.70 619.42Z" fill="#82d282"/>
<path d="M607.1 649.9L626.10 616.99A38.00 38.00 0 0 0 622.56 615.19Z" fill="#82d282"/>
<path d="M607.1 649.9L622.56 615.19A38.00 38.00 0 0 0 618.84 613.76Z" fill="#82d282"/>
<path d="M607.1 649.9L618.84 613.76A38.00 38.00 0 0 0 615.00 612.73Z" fill="#82d282"/>
<path d="M607.1 649.9L615.42 610.77A40.00 40.00 0 0 0 611.28 610.12Z" fill="#cacaca"/>
<path d="M607.1 649.9L611.07 612.11A38.00 38.00 0 0 0 607.10 611.90Z" fill="#82d282"/>
<path d="M607.1 649.9L607.10 611.90A38.00 38.00 0 0 0 603.13 612.11Z" fill="#82d282"/>
<path d="M607.1 649.9L602.92 610.12A40.00 40.00 0 0 0 598.78 610.77Z" fill="#cacaca"/>
<path d="M607.1 649.9L599.37 613.51A37.20 37.20 0 0 0 595.60 614.52Z" fill="#e26a6a"/>
<path d="M607.1 649.9L595.60 614.52A37.20 37.20 0 0 0 591.97 615.92Z" fill="#e26a6a"/>
<path d="M607.1 649.9L593.43 619.20A33.60 33.60 0 0 0 590.30 620.80Z" fill="#e26a6a"/>
<path d="M607.1 649.9L588.50 617.68A37.20 37.20 0 0 0 585.23 619.80Z" fill="#e26a6a"/>
<path d="M607.1 649.9L585.23 619.80A37.20 37.20 0 0 0 582.21 622.26Z" fill="#e26a6a"/>
<path d="M607.1 649.9L582.21 622.26A37.20 37.20 0 0 0 579.46 625.01Z" fill="#e26a6a"/>
<path d="M607.1 649.9L577.37 623.13A40.00 40.00 0 0 0 574.74 626.39Z" fill="#cacaca"/>
<path d="M607.1 649.9L574.74 626.39A40.00 40.00 0 0 0 572.46 629.90Z" fill="#cacaca"/>
<path d="M607.1 649.9L576.62 632.30A35.20 35.20 0 0 0 574.94 635.58Z" fill="#f6c06c"/>
<path d="M607.1 649.9L574.94 635.58A35.20 35.20 0 0 0 573.62 639.02Z" fill="#f6c06c"/>
<path d="M607.1 649.9L569.06 637.54A40.00 40.00 0 0 0 567.97 641.58Z" fill="#cacaca"/>
<path d="M607.1 649.9L567.97 641.58A40.00 40.00 0 0 0 567.32 645.72Z" fill="#cacaca"/>
<path d="M607.1 649.9L567.32 645.72A40.00 40.00 0 0 0 567.10 649.90Z" fill="#cacaca"/>
<path d="M607.1 649.9L572.70 649.90A34.40 34.40 0 0 0 572.89 653.50Z" fill="#f6c06c"/>
<path d="M607.1 649.9L572.89 653.50A34.40 34.40 0 0 0 573.45 657.05Z" fill="#f6c06c"/>
<path d="M607.1 649.9L571.10 657.55A36.80 36.80 0 0 0 572.10 661.27Z" fill="#f6c06c"/>
<path d="M607.1 649.9L572.10 661.27A36.80 36.80 0 0 0 573.48 664.87Z" fill="#f6c06c"/>
<path d="M607.1 649.9L573.48 664.87A36.80 36.80 0 0 0 575.23 668.30Z" fill="#f6c06c"/>
<path d="M607.1 649.9L572.46 669.90A40.00 40.00 0 0 0 574.74 673.41Z" fill="#cacaca"/>
<path d="M607.1 649.9L574.74 673.41A40.00 40.00 0 0 0 577.37 676.67Z" fill="#cacaca"/>
<path d="M607.1 649.9L580.35 673.99A36.00 36.00 0 0 0 583.01 676.65Z" fill="#f6c06c"/>
<path d="M607.1 649.9L583.01 676.65A36.00 36.00 0 0 0 585.94 679.02Z" fill="#f6c06c"/>
<path d="M607.1 649.9L585.94 679.02A36.00 36.00 0 0 0 589.10 681.08Z" fill="#f6c06c"/>
<path d="M607.1 649.9L588.10 682.81A38.00 38.00 0 0 0 591.64 684.61Z" fill="#f6c06c"/>
<path d="M607.1 649.9L591.64 684.61A38.00 38.00 0 0 0 595.36 686.04Z" fill="#f6c06c"/>
<path d="M607.1 649.9L595.36 686.04A38.00 38.00 0 0 0 599.20 687.07Z" fill="#f6c06c"/>
<path d="M607.1 649.9L598.78 689.03A40.00 40.00 0 0 0 602.92 689.68Z" fill="#cacaca"/>
<path d="M607.1 649.9L602.92 689.68A40.00 40.00 0 0 0 607.10 689.90Z" fill="#cacaca"/>
<path d="M607.1 649.9L607.10 685.90A36.00 36.00 0 0 0 610.86 685.70Z" fill="#f6c06c"/>
<path d="M607.1 649.9L610.86 685.70A36.00 36.00 0 0 0 614.58 685.11Z" fill="#f6c06c"/>
<path d="M607.1 649.9L614.58 685.11A36.00 36.00 0 0 0 618.22 684.14Z" fill="#f6c06c"/>
<path d="M607.1 649.9L619.46 687.94A40.00 40.00 0 0 0 623.37 686.44Z" fill="#cacaca"/>
<path d="M607.1 649.9L623.37 686.44A40.00 40.00 0 0 0 627.10 684.54Z" fill="#cacaca"/>
<path d="M607.1 649.9L627.10 684.54A40.00 40.00 0 0 0 630.61 682.26Z" fill="#cacaca"/>
<path d="M607.1 649.9L630.61 682.26A40.00 40.00 0 0 0 633.87 679.63Z" fill="#cacaca"/>
<path d="M607.1 649.9L633.87 679.63A40.00 40.00 0 0 0 636.83 676.67Z" fill="#cacaca"/>
<path d="M607.1 649.9L636.83 676.67A40.00 40.00 0 0 0 639.46 673.41Z" fill="#cacaca"/>
<path d="M607.1 649.9L639.46 673.41A40.00 40.00 0 0 0 641.74 669.90Z" fill="#cacaca"/>
<path d="M607.1 649.9L641.74 669.90A40.00 40.00 0 0 0 643.64 666.17Z" fill="#cacaca"/>
<path d="M607.1 649.9L643.64 666.17A40.00 40.00 0 0 0 645.14 662.26Z" fill="#cacaca"/>
<path d="M607.1 649.9L645.14 662.26A40.00 40.00 0 0 0 646.23 658.22Z" fill="#cacaca"/>
<path d="M607.1 649.9L646.23 658.22A40.00 40.00 0 0 0 646.88 654.08Z" fill="#cacaca"/>
<path d="M607.1 649.9L646.88 654.08A40.00 40.00 0 0 0 647.10 649.90Z" fill="#cacaca"/>
<path d="M607.1 649.9L647.10 649.90M607.1 649.9L646.88 645.72M607.1 649.9L646.23 641.58M607.1 649.9L645.14 637.54M607.1 649.9L643.64 633.63M607.1 649.9L641.74 629.90M607.1 649.9L639.46 626.39M607.1 649.9L636.83 623.13M607.1 649.9L633.87 620.17M607.1 649.9L630.61 617.54M607.1 649.9L627.10 615.26M607.1 649.9L623.37 613.36M607.1 649.9L619.46 611.86M607.1 649.9L615.42 610.77M607.1 649.9L611.28 610.12M607.1 649.9L607.10 609.90M607.1 649.9L602.92 610.12M607.1 649.9L598.78 610.77M607.1 649.9L594.74 611.86M607.1 649.9L590.83 613.36M607.1 649.9L587.10 615.26M607.1 649.9L583.59 617.54M607.1 649.9L580.33 620.17M607.1 649.9L577.37 623.13M607.1 649.9L574.74 626.39M607.1 649.9L572.46 629.90M607.1 649.9L570.56 633.63M607.1 649.9L569.06 637.54M607.1 649.9L567.97 641.58M607.1 649.9L567.32 645.72M607.1 649.9L567.10 649.90M607.1 649.9L567.32 654.08M607.1 649.9L567.97 658.22M607.1 649.9L569.06 662.26M607.1 649.9L570.56 666.17M607.1 649.9L572.46 669.90M607.1 649.9L574.74 673.41M607.1 649.9L577.37 676.67M607.1 649.9L580.33 679.63M607.1 649.9L583.59 682.26M607.1 649.9L587.10 684.54M607.1 649.9L590.83 686.44M607.1 649.9L594.74 687.94M607.1 649.9L598.78 689.03M607.1 649.9L602.92 689.68M607.1 649.9L607.10 689.90M607.1 649.9L611.28 689.68M607.1 649.9L615.42 689.03M607.1 649.9L619.46 687.94M607.1 649.9L623.37 686.44M607.1 649.9L627.10 684.54M607.1 649.9L630.61 682.26M607.1 649.9L633.87 679.63M607.1 649.9L636.83 676.67M607.1 649.9L639.46 673.41M607.1 649.9L641.74 669.90M607.1 649.9L643.64 666.17M607.1 649.9L645.14 662.26M607.1 649.9L646.23 658.22M607.1 649.9L646.88 654.08" stroke="#a9a9a9" stroke-width="0.180" fill="none" opacity=".8"/>
<circle cx="607.1" cy="649.9" r="8.00" fill="none" stroke="#b0b0b0" stroke-width="0.150" opacity=".7"/>
<circle cx="607.1" cy="649.9" r="16.00" fill="none" stroke="#b0b0b0" stroke-width="0.150" opacity=".7"/>
<circle cx="607.1" cy="649.9" r="24.00" fill="none" stroke="#b0b0b0" stroke-width="0.150" opacity=".7"/>
<circle cx="607.1" cy="649.9" r="32.00" fill="none" stroke="#b0b0b0" stroke-width="0.150" opacity=".7"/>
<path d="M647.70 649.90A40.60 40.60 0 0 0 600.05 609.92" fill="none" stroke="#9edc9e" stroke-width="0.7"/>
<path d="M600.05 609.92A40.60 40.60 0 0 0 575.11 624.90" fill="none" stroke="#e47474" stroke-width="0.7"/>
<path d="M575.11 624.90A40.60 40.60 0 0 0 627.40 685.06" fill="none" stroke="#f3c070" stroke-width="0.7"/>
<path d="M627.40 685.06A40.60 40.60 0 0 0 647.70 649.90" fill="none" stroke="#4a78a8" stroke-width="0.7"/>
<text x="615.10" y="650.53" font-size="1.8" text-anchor="middle" fill="#222">0.2</text>
<text x="623.10" y="650.53" font-size="1.8" text-anchor="middle" fill="#222">0.4</text>
<text x="631.10" y="650.53" font-size="1.8" text-anchor="middle" fill="#222">0.6</text>
<text x="639.10" y="650.53" font-size="1.8" text-anchor="middle" fill="#222">0.8</text>
<text x="647.90" y="650.53" font-size="1.8" text-anchor="middle" fill="#222">1</text>
<text transform="translate(650.18 643.85) rotate(-8.0)" font-size="2.3" text-anchor="start" fill="#1c1c1c" font-weight="bold" dy="0.80">Parietal</text>
<text transform="translate(646.84 632.21) rotate(-24.0)" font-size="2.3" text-anchor="start" fill="#1c1c1c" font-weight="bold" dy="0.80">Temporal</text>
<text transform="translate(641.38 623.12) rotate(-38.0)" font-size="2.3" text-anchor="start" fill="#1c1c1c" font-weight="bold" dy="0.80">Occipital</text>
<text transform="translate(633.88 615.62) rotate(-52.0)" font-size="2.3" text-anchor="start" fill="#1c1c1c" font-weight="bold" dy="0.80">Frontal</text>
<text transform="translate(624.79 610.16) rotate(-66.0)" font-size="2.3" text-anchor="start" fill="#1c1c1c" font-weight="bold" dy="0.80">Cingulate</text>
<text transform="translate(614.65 607.06) rotate(-80.0)" font-size="2.3" text-anchor="start" fill="#1c1c1c" font-weight="bold" dy="0.80">Insula</text>
<text transform="translate(605.58 606.43) rotate(88.0)" font-size="2.3" text-anchor="end" fill="#1c1c1c" font-weight="bold" dy="0.80">Corpus Callosum</text>
<text transform="translate(599.55 607.06) rotate(80.0)" font-size="2.3" text-anchor="end" fill="#1c1c1c" font-weight="bold" dy="0.80">Cerebellar White Matter</text>
<text transform="translate(595.11 608.09) rotate(74.0)" font-size="2.3" text-anchor="end" fill="#1c1c1c" font-weight="bold" dy="0.80">Cerebellar Exterior</text>
<text transform="translate(590.80 609.57) rotate(68.0)" font-size="2.3" text-anchor="end" fill="#1c1c1c" font-weight="bold" dy="0.80">Vermal Lobules I-V</text>
<text transform="translate(585.35 612.23) rotate(60.0)" font-size="2.3" text-anchor="end" fill="#1c1c1c" font-weight="bold" dy="0.80">Vermal Lobules VI-VII</text>
<text transform="translate(580.32 615.62) rotate(52.0)" font-size="2.3" text-anchor="end" fill="#1c1c1c" font-weight="bold" dy="0.80">Vermal Lobules VIII-X</text>
<text transform="translate(575.29 620.23) rotate(43.0)" font-size="2.3" text-anchor="end" fill="#1c1c1c" font-weight="bold" dy="0.80">Cerebellar Peduncle</text>
<text transform="translate(571.04 625.58) rotate(34.0)" font-size="2.3" text-anchor="end" fill="#1c1c1c" font-weight="bold" dy="0.80">Pons</text>
<text transform="translate(566.22 635.02) rotate(20.0)" font-size="2.3" text-anchor="end" fill="#1c1c1c" font-weight="bold" dy="0.80">Amygdala</text>
<text transform="translate(564.02 643.85) rotate(8.0)" font-size="2.3" text-anchor="end" fill="#1c1c1c" font-weight="bold" dy="0.80">Basal Forebrain</text>
<text transform="translate(563.71 652.93) rotate(-4.0)" font-size="2.3" text-anchor="end" fill="#1c1c1c" font-weight="bold" dy="0.80">Brainstem</text>
<text transform="translate(565.29 661.89) rotate(-16.0)" font-size="2.3" text-anchor="end" fill="#1c1c1c" font-weight="bold" dy="0.80">Caudate</text>
<text transform="translate(568.69 670.32) rotate(-28.0)" font-size="2.3" text-anchor="end" fill="#1c1c1c" font-weight="bold" dy="0.80">Ventral DC</text>
<text transform="translate(574.77 679.01) rotate(-42.0)" font-size="2.3" text-anchor="end" fill="#1c1c1c" font-weight="bold" dy="0.80">Pallidum</text>
<text transform="translate(584.05 686.79) rotate(-58.0)" font-size="2.3" text-anchor="end" fill="#1c1c1c" font-weight="bold" dy="0.80">Putamen</text>
<text transform="translate(593.66 691.27) rotate(-72.0)" font-size="2.3" text-anchor="end" fill="#1c1c1c" font-weight="bold" dy="0.80">Thalamus</text>
<text transform="translate(604.07 693.29) rotate(-86.0)" font-size="2.3" text-anchor="end" fill="#1c1c1c" font-weight="bold" dy="0.80">Hippocampus</text>
<text transform="translate(614.65 692.74) rotate(-280.0)" font-size="2.3" text-anchor="start" fill="#1c1c1c" font-weight="bold" dy="0.80">Accumbens</text>
<text transform="translate(626.17 689.00) rotate(-296.0)" font-size="2.3" text-anchor="start" fill="#1c1c1c" font-weight="bold" dy="0.80">Accumbens Area</text>
<text transform="translate(633.88 684.18) rotate(-308.0)" font-size="2.3" text-anchor="start" fill="#1c1c1c" font-weight="bold" dy="0.80">Frontal</text>
<text transform="translate(639.43 679.01) rotate(-318.0)" font-size="2.3" text-anchor="start" fill="#1c1c1c" font-weight="bold" dy="0.80">Temporal</text>
<text transform="translate(643.16 674.22) rotate(-326.0)" font-size="2.3" text-anchor="start" fill="#1c1c1c" font-weight="bold" dy="0.80">Parietal</text>
<text transform="translate(646.20 668.97) rotate(-334.0)" font-size="2.3" text-anchor="start" fill="#1c1c1c" font-weight="bold" dy="0.80">Occipital</text>
<text transform="translate(648.47 663.34) rotate(-342.0)" font-size="2.3" text-anchor="start" fill="#1c1c1c" font-weight="bold" dy="0.80">Cingulate</text>
<text transform="translate(649.94 657.45) rotate(-350.0)" font-size="2.3" text-anchor="start" fill="#1c1c1c" font-weight="bold" dy="0.80">Insula</text>
<text transform="translate(650.54 652.18) rotate(-357.0)" font-size="2.3" text-anchor="start" fill="#1c1c1c" font-weight="bold" dy="0.80">Precuneus</text>
<circle cx="725.1" cy="650.1" r="37.6" fill="#fff"/>
<path d="M725.1 650.1L762.70 650.10A37.60 37.60 0 0 0 762.49 646.17Z" fill="#cacaca"/>
<path d="M725.1 650.1L762.49 646.17A37.60 37.60 0 0 0 761.88 642.28Z" fill="#cacaca"/>
<path d="M725.1 650.1L761.88 642.28A37.60 37.60 0 0 0 760.86 638.48Z" fill="#cacaca"/>
<path d="M725.1 650.1L759.79 638.83A36.47 36.47 0 0 0 758.42 635.27Z" fill="#82d282"/>
<path d="M725.1 650.1L758.42 635.27A36.47 36.47 0 0 0 756.69 631.86Z" fill="#82d282"/>
<path d="M725.1 650.1L756.69 631.86A36.47 36.47 0 0 0 754.61 628.66Z" fill="#82d282"/>
<path d="M725.1 650.1L754.61 628.66A36.47 36.47 0 0 0 752.20 625.70Z" fill="#82d282"/>
<path d="M725.1 650.1L752.20 625.70A36.47 36.47 0 0 0 749.50 623.00Z" fill="#82d282"/>
<path d="M725.1 650.1L749.50 623.00A36.47 36.47 0 0 0 746.54 620.59Z" fill="#82d282"/>
<path d="M725.1 650.1L744.33 623.64A32.71 32.71 0 0 0 741.46 621.77Z" fill="#82d282"/>
<path d="M725.1 650.1L741.46 621.77A32.71 32.71 0 0 0 738.41 620.22Z" fill="#82d282"/>
<path d="M725.1 650.1L739.48 617.81A35.34 35.34 0 0 0 736.02 616.49Z" fill="#82d282"/>
<path d="M725.1 650.1L736.02 616.49A35.34 35.34 0 0 0 732.45 615.53Z" fill="#82d282"/>
<path d="M725.1 650.1L732.45 615.53A35.34 35.34 0 0 0 728.79 614.95Z" fill="#82d282"/>
<path d="M725.1 650.1L729.03 612.71A37.60 37.60 0 0 0 725.10 612.50Z" fill="#cacaca"/>
<path d="M725.1 650.1L725.10 614.38A35.72 35.72 0 0 0 721.37 614.58Z" fill="#82d282"/>
<path d="M725.1 650.1L721.17 612.71A37.60 37.60 0 0 0 717.28 613.32Z" fill="#cacaca"/>
<path d="M725.1 650.1L718.46 618.84A31.96 31.96 0 0 0 715.22 619.70Z" fill="#e26a6a"/>
<path d="M725.1 650.1L715.22 619.70A31.96 31.96 0 0 0 712.10 620.90Z" fill="#e26a6a"/>
<path d="M725.1 650.1L715.92 629.49A22.56 22.56 0 0 0 713.82 630.56Z" fill="#e26a6a"/>
<path d="M725.1 650.1L712.32 627.96A25.57 25.57 0 0 0 710.07 629.42Z" fill="#e26a6a"/>
<path d="M725.1 650.1L710.07 629.42A25.57 25.57 0 0 0 707.99 631.10Z" fill="#e26a6a"/>
<path d="M725.1 650.1L706.73 629.70A27.45 27.45 0 0 0 704.70 631.73Z" fill="#e26a6a"/>
<path d="M725.1 650.1L704.70 631.73A27.45 27.45 0 0 0 702.89 633.97Z" fill="#e26a6a"/>
<path d="M725.1 650.1L700.76 632.42A30.08 30.08 0 0 0 699.05 635.06Z" fill="#e26a6a"/>
<path d="M725.1 650.1L692.54 631.30A37.60 37.60 0 0 0 690.75 634.81Z" fill="#cacaca"/>
<path d="M725.1 650.1L690.75 634.81A37.60 37.60 0 0 0 689.34 638.48Z" fill="#cacaca"/>
<path d="M725.1 650.1L689.34 638.48A37.60 37.60 0 0 0 688.32 642.28Z" fill="#cacaca"/>
<path d="M725.1 650.1L689.43 642.52A36.47 36.47 0 0 0 688.83 646.29Z" fill="#f6c06c"/>
<path d="M725.1 650.1L702.66 647.74A22.56 22.56 0 0 0 702.54 650.10Z" fill="#f6c06c"/>
<path d="M725.1 650.1L702.54 650.10A22.56 22.56 0 0 0 702.66 652.46Z" fill="#f6c06c"/>
<path d="M725.1 650.1L692.94 653.48A32.34 32.34 0 0 0 693.47 656.82Z" fill="#f6c06c"/>
<path d="M725.1 650.1L693.47 656.82A32.34 32.34 0 0 0 694.35 660.09Z" fill="#f6c06c"/>
<path d="M725.1 650.1L692.92 660.56A33.84 33.84 0 0 0 694.19 663.86Z" fill="#f6c06c"/>
<path d="M725.1 650.1L694.19 663.86A33.84 33.84 0 0 0 695.79 667.02Z" fill="#f6c06c"/>
<path d="M725.1 650.1L692.54 668.90A37.60 37.60 0 0 0 694.68 672.20Z" fill="#cacaca"/>
<path d="M725.1 650.1L694.68 672.20A37.60 37.60 0 0 0 697.16 675.26Z" fill="#cacaca"/>
<path d="M725.1 650.1L700.51 672.24A33.09 33.09 0 0 0 702.96 674.69Z" fill="#f6c06c"/>
<path d="M725.1 650.1L702.96 674.69A33.09 33.09 0 0 0 705.65 676.87Z" fill="#f6c06c"/>
<path d="M725.1 650.1L705.65 676.87A33.09 33.09 0 0 0 708.56 678.76Z" fill="#f6c06c"/>
<path d="M725.1 650.1L708.56 678.76A33.09 33.09 0 0 0 711.64 680.33Z" fill="#f6c06c"/>
<path d="M725.1 650.1L711.64 680.33A33.09 33.09 0 0 0 714.88 681.57Z" fill="#f6c06c"/>
<path d="M725.1 650.1L714.18 683.71A35.34 35.34 0 0 0 717.75 684.67Z" fill="#f6c06c"/>
<path d="M725.1 650.1L717.75 684.67A35.34 35.34 0 0 0 721.41 685.25Z" fill="#f6c06c"/>
<path d="M725.1 650.1L721.41 685.25A35.34 35.34 0 0 0 725.10 685.44Z" fill="#f6c06c"/>
<path d="M725.1 650.1L725.10 685.44A35.34 35.34 0 0 0 728.79 685.25Z" fill="#f6c06c"/>
<path d="M725.1 650.1L728.64 683.75A33.84 33.84 0 0 0 732.14 683.20Z" fill="#f6c06c"/>
<path d="M725.1 650.1L732.14 683.20A33.84 33.84 0 0 0 735.56 682.28Z" fill="#f6c06c"/>
<path d="M725.1 650.1L735.56 682.28A33.84 33.84 0 0 0 736.67 681.90Z" fill="#f6c06c"/>
<path d="M725.1 650.1L737.96 685.43A37.60 37.60 0 0 0 741.58 683.89Z" fill="#cacaca"/>
<path d="M725.1 650.1L741.58 683.89A37.60 37.60 0 0 0 745.02 681.99Z" fill="#cacaca"/>
<path d="M725.1 650.1L745.02 681.99A37.60 37.60 0 0 0 748.25 679.73Z" fill="#cacaca"/>
<path d="M725.1 650.1L748.25 679.73A37.60 37.60 0 0 0 751.22 677.15Z" fill="#cacaca"/>
<path d="M725.1 650.1L751.22 677.15A37.60 37.60 0 0 0 753.90 674.27Z" fill="#cacaca"/>
<path d="M725.1 650.1L753.90 674.27A37.60 37.60 0 0 0 756.27 671.13Z" fill="#cacaca"/>
<path d="M725.1 650.1L756.27 671.13A37.60 37.60 0 0 0 758.30 667.75Z" fill="#cacaca"/>
<path d="M725.1 650.1L758.30 667.75A37.60 37.60 0 0 0 759.96 664.19Z" fill="#cacaca"/>
<path d="M725.1 650.1L759.96 664.19A37.60 37.60 0 0 0 761.24 660.46Z" fill="#cacaca"/>
<path d="M725.1 650.1L761.24 660.46A37.60 37.60 0 0 0 762.13 656.63Z" fill="#cacaca"/>
<path d="M725.1 650.1L762.13 656.63A37.60 37.60 0 0 0 762.61 652.72Z" fill="#cacaca"/>
<path d="M725.1 650.1L762.61 652.72A37.60 37.60 0 0 0 762.70 650.10Z" fill="#cacaca"/>
<path d="M725.1 650.1L762.70 650.10M725.1 650.1L762.49 646.17M725.1 650.1L761.88 642.28M725.1 650.1L760.86 638.48M725.1 650.1L759.45 634.81M725.1 650.1L757.66 631.30M725.1 650.1L755.52 628.00M725.1 650.1L753.04 624.94M725.1 650.1L750.26 622.16M725.1 650.1L747.20 619.68M725.1 650.1L743.90 617.54M725.1 650.1L740.39 615.75M725.1 650.1L736.72 614.34M725.1 650.1L732.92 613.32M725.1 650.1L729.03 612.71M725.1 650.1L725.10 612.50M725.1 650.1L721.17 612.71M725.1 650.1L717.28 613.32M725.1 650.1L713.48 614.34M725.1 650.1L709.81 615.75M725.1 650.1L706.30 617.54M725.1 650.1L703.00 619.68M725.1 650.1L699.94 622.16M725.1 650.1L697.16 624.94M725.1 650.1L694.68 628.00M725.1 650.1L692.54 631.30M725.1 650.1L690.75 634.81M725.1 650.1L689.34 638.48M725.1 650.1L688.32 642.28M725.1 650.1L687.71 646.17M725.1 650.1L687.50 650.10M725.1 650.1L687.71 654.03M725.1 650.1L688.32 657.92M725.1 650.1L689.34 661.72M725.1 650.1L690.75 665.39M725.1 650.1L692.54 668.90M725.1 650.1L694.68 672.20M725.1 650.1L697.16 675.26M725.1 650.1L699.94 678.04M725.1 650.1L703.00 680.52M725.1 650.1L706.30 682.66M725.1 650.1L709.81 684.45M725.1 650.1L713.48 685.86M725.1 650.1L717.28 686.88M725.1 650.1L721.17 687.49M725.1 650.1L725.10 687.70M725.1 650.1L729.03 687.49M725.1 650.1L732.92 686.88M725.1 650.1L736.72 685.86M725.1 650.1L740.39 684.45M725.1 650.1L743.90 682.66M725.1 650.1L747.20 680.52M725.1 650.1L750.26 678.04M725.1 650.1L753.04 675.26M725.1 650.1L755.52 672.20M725.1 650.1L757.66 668.90M725.1 650.1L759.45 665.39M725.1 650.1L760.86 661.72M725.1 650.1L761.88 657.92M725.1 650.1L762.49 654.03" stroke="#a9a9a9" stroke-width="0.180" fill="none" opacity=".8"/>
<circle cx="725.1" cy="650.1" r="7.52" fill="none" stroke="#b0b0b0" stroke-width="0.150" opacity=".7"/>
<circle cx="725.1" cy="650.1" r="15.04" fill="none" stroke="#b0b0b0" stroke-width="0.150" opacity=".7"/>
<circle cx="725.1" cy="650.1" r="22.56" fill="none" stroke="#b0b0b0" stroke-width="0.150" opacity=".7"/>
<circle cx="725.1" cy="650.1" r="30.08" fill="none" stroke="#b0b0b0" stroke-width="0.150" opacity=".7"/>
<path d="M763.30 650.10A38.20 38.20 0 0 0 718.47 612.48" fill="none" stroke="#9edc9e" stroke-width="0.7"/>
<path d="M718.47 612.48A38.20 38.20 0 0 0 695.00 626.58" fill="none" stroke="#e47474" stroke-width="0.7"/>
<path d="M695.00 626.58A38.20 38.20 0 0 0 744.20 683.18" fill="none" stroke="#f3c070" stroke-width="0.7"/>
<path d="M744.20 683.18A38.20 38.20 0 0 0 763.30 650.10" fill="none" stroke="#4a78a8" stroke-width="0.7"/>
<text x="732.62" y="650.70" font-size="1.7" text-anchor="middle" fill="#222">0.2</text>
<text x="740.14" y="650.70" font-size="1.7" text-anchor="middle" fill="#222">0.4</text>
<text x="747.66" y="650.70" font-size="1.7" text-anchor="middle" fill="#222">0.6</text>
<text x="755.18" y="650.70" font-size="1.7" text-anchor="middle" fill="#222">0.8</text>
<text x="763.45" y="650.70" font-size="1.7" text-anchor="middle" fill="#222">1</text>
<text transform="translate(765.70 644.39) rotate(-8.0)" font-size="2.2" text-anchor="start" fill="#1c1c1c" font-weight="bold" dy="0.77">Parietal</text>
<text transform="translate(762.56 633.42) rotate(-24.0)" font-size="2.2" text-anchor="start" fill="#1c1c1c" font-weight="bold" dy="0.77">Temporal</text>
<text transform="translate(757.41 624.86) rotate(-38.0)" font-size="2.2" text-anchor="start" fill="#1c1c1c" font-weight="bold" dy="0.77">Occipital</text>
<text transform="translate(750.34 617.79) rotate(-52.0)" font-size="2.2" text-anchor="start" fill="#1c1c1c" font-weight="bold" dy="0.77">Frontal</text>
<text transform="translate(741.78 612.64) rotate(-66.0)" font-size="2.2" text-anchor="start" fill="#1c1c1c" font-weight="bold" dy="0.77">Cingulate</text>
<text transform="translate(732.22 609.72) rotate(-80.0)" font-size="2.2" text-anchor="start" fill="#1c1c1c" font-weight="bold" dy="0.77">Insula</text>
<text transform="translate(723.67 609.12) rotate(88.0)" font-size="2.2" text-anchor="end" fill="#1c1c1c" font-weight="bold" dy="0.77">Corpus Callosum</text>
<text transform="translate(717.98 609.72) rotate(80.0)" font-size="2.2" text-anchor="end" fill="#1c1c1c" font-weight="bold" dy="0.77">Cerebellar White Matter</text>
<text transform="translate(713.80 610.69) rotate(74.0)" font-size="2.2" text-anchor="end" fill="#1c1c1c" font-weight="bold" dy="0.77">Cerebellar Exterior</text>
<text transform="translate(709.74 612.09) rotate(68.0)" font-size="2.2" text-anchor="end" fill="#1c1c1c" font-weight="bold" dy="0.77">Vermal Lobules I-V</text>
<text transform="translate(704.60 614.59) rotate(60.0)" font-size="2.2" text-anchor="end" fill="#1c1c1c" font-weight="bold" dy="0.77">Vermal Lobules VI-VII</text>
<text transform="translate(699.86 617.79) rotate(52.0)" font-size="2.2" text-anchor="end" fill="#1c1c1c" font-weight="bold" dy="0.77">Vermal Lobules VIII-X</text>
<text transform="translate(695.11 622.14) rotate(43.0)" font-size="2.2" text-anchor="end" fill="#1c1c1c" font-weight="bold" dy="0.77">Cerebellar Peduncle</text>
<text transform="translate(691.11 627.17) rotate(34.0)" font-size="2.2" text-anchor="end" fill="#1c1c1c" font-weight="bold" dy="0.77">Pons</text>
<text transform="translate(686.57 636.08) rotate(20.0)" font-size="2.2" text-anchor="end" fill="#1c1c1c" font-weight="bold" dy="0.77">Amygdala</text>
<text transform="translate(684.50 644.39) rotate(8.0)" font-size="2.2" text-anchor="end" fill="#1c1c1c" font-weight="bold" dy="0.77">Basal Forebrain</text>
<text transform="translate(684.20 652.96) rotate(-4.0)" font-size="2.2" text-anchor="end" fill="#1c1c1c" font-weight="bold" dy="0.77">Brainstem</text>
<text transform="translate(685.69 661.40) rotate(-16.0)" font-size="2.2" text-anchor="end" fill="#1c1c1c" font-weight="bold" dy="0.77">Caudate</text>
<text transform="translate(688.90 669.35) rotate(-28.0)" font-size="2.2" text-anchor="end" fill="#1c1c1c" font-weight="bold" dy="0.77">Ventral DC</text>
<text transform="translate(694.63 677.53) rotate(-42.0)" font-size="2.2" text-anchor="end" fill="#1c1c1c" font-weight="bold" dy="0.77">Pallidum</text>
<text transform="translate(703.37 684.87) rotate(-58.0)" font-size="2.2" text-anchor="end" fill="#1c1c1c" font-weight="bold" dy="0.77">Putamen</text>
<text transform="translate(712.43 689.09) rotate(-72.0)" font-size="2.2" text-anchor="end" fill="#1c1c1c" font-weight="bold" dy="0.77">Thalamus</text>
<text transform="translate(722.24 691.00) rotate(-86.0)" font-size="2.2" text-anchor="end" fill="#1c1c1c" font-weight="bold" dy="0.77">Hippocampus</text>
<text transform="translate(732.22 690.48) rotate(-280.0)" font-size="2.2" text-anchor="start" fill="#1c1c1c" font-weight="bold" dy="0.77">Accumbens</text>
<text transform="translate(743.07 686.95) rotate(-296.0)" font-size="2.2" text-anchor="start" fill="#1c1c1c" font-weight="bold" dy="0.77">Accumbens Area</text>
<text transform="translate(750.34 682.41) rotate(-308.0)" font-size="2.2" text-anchor="start" fill="#1c1c1c" font-weight="bold" dy="0.77">Frontal</text>
<text transform="translate(755.57 677.53) rotate(-318.0)" font-size="2.2" text-anchor="start" fill="#1c1c1c" font-weight="bold" dy="0.77">Temporal</text>
<text transform="translate(759.09 673.03) rotate(-326.0)" font-size="2.2" text-anchor="start" fill="#1c1c1c" font-weight="bold" dy="0.77">Parietal</text>
<text transform="translate(761.95 668.07) rotate(-334.0)" font-size="2.2" text-anchor="start" fill="#1c1c1c" font-weight="bold" dy="0.77">Occipital</text>
<text transform="translate(764.09 662.77) rotate(-342.0)" font-size="2.2" text-anchor="start" fill="#1c1c1c" font-weight="bold" dy="0.77">Cingulate</text>
<text transform="translate(765.48 657.22) rotate(-350.0)" font-size="2.2" text-anchor="start" fill="#1c1c1c" font-weight="bold" dy="0.77">Insula</text>
<text transform="translate(766.04 652.25) rotate(-357.0)" font-size="2.2" text-anchor="start" fill="#1c1c1c" font-weight="bold" dy="0.77">Precuneus</text>
<rect x="723" y="451.50" width="6" height="2.200" fill="#f3b95e"/>
<text x="731.500" y="453.70" font-size="3.100" fill="#5a6474" style="font-family:'DejaVu Sans',sans-serif">Subcortical Regions</text>
<rect x="723" y="456.20" width="6" height="2.200" fill="#6fc96f"/>
<text x="731.500" y="458.40" font-size="3.100" fill="#5a6474" style="font-family:'DejaVu Sans',sans-serif">White matter</text>
<rect x="723" y="460.90" width="6" height="2.200" fill="#dc5a5a"/>
<text x="731.500" y="463.10" font-size="3.100" fill="#5a6474" style="font-family:'DejaVu Sans',sans-serif">Cerebellum</text>
<rect x="723" y="465.60" width="6" height="2.200" fill="#3e6e9e"/>
<text x="731.500" y="467.80" font-size="3.100" fill="#5a6474" style="font-family:'DejaVu Sans',sans-serif">Cortical Regions</text>
<rect x="659.900" y="596.50" width="1.700" height="1.700" fill="#f3b95e"/>
<rect x="774.700" y="600.60" width="1.700" height="1.700" fill="#f3b95e"/>
<rect x="659.900" y="600.50" width="1.700" height="1.700" fill="#6fc96f"/>
<rect x="774.700" y="603.90" width="1.700" height="1.700" fill="#6fc96f"/>
<rect x="659.900" y="604.50" width="1.700" height="1.700" fill="#dc5a5a"/>
<rect x="774.700" y="607.20" width="1.700" height="1.700" fill="#dc5a5a"/>
<rect x="659.900" y="608.50" width="1.700" height="1.700" fill="#3e6e9e"/>
<rect x="774.700" y="610.50" width="1.700" height="1.700" fill="#3e6e9e"/>
</svg>

<!-- clinical follow-up charts -->
<svg style="left:270px;top:680px" width="280" height="290" viewBox="270 680 280 290">
<rect x="284.450" y="700.250" width="155.950" height="67.050" fill="#fff"/>
<path d="M284.45 700.25V767.3M323.4 700.25V767.3M362.8 700.25V767.3M401.5 700.25V767.3M440.4 700.25V767.3M284.45 700.25H440.4M284.45 717.1H440.4M284.45 734H440.4M284.45 750.9H440.4M284.45 767.3H440.4" stroke="#d6d6d6" stroke-width="0.500" fill="none"/>
<path d="M284.450 700.250V767.300H440.400" stroke="#6a6a6a" stroke-width="0.600" fill="none"/>
<g fill="#3b63c9">
<circle cx="336.9" cy="708.6" r="1.650"/>
<circle cx="347.0" cy="708.1" r="1.650"/>
<circle cx="365.0" cy="708.8" r="1.650"/>
<circle cx="370.6" cy="714.2" r="1.650"/>
<circle cx="305.4" cy="722.1" r="1.650"/>
<circle cx="323.4" cy="719.8" r="1.650"/>
<circle cx="334.0" cy="722.8" r="1.650"/>
<circle cx="339.6" cy="723.4" r="1.650"/>
<circle cx="362.8" cy="718.3" r="1.650"/>
<circle cx="383.5" cy="718.3" r="1.650"/>
<circle cx="339.6" cy="728.4" r="1.650"/>
<circle cx="367.9" cy="725.7" r="1.650"/>
<circle cx="375.6" cy="724.3" r="1.650"/>
<circle cx="399.2" cy="728.4" r="1.650"/>
<circle cx="334.0" cy="734.5" r="1.650"/>
<circle cx="336.9" cy="733.6" r="1.650"/>
<circle cx="352.2" cy="731.3" r="1.650"/>
<circle cx="354.9" cy="730.6" r="1.650"/>
<circle cx="385.9" cy="731.3" r="1.650"/>
<circle cx="367.9" cy="735.6" r="1.650"/>
<circle cx="310.3" cy="737.2" r="1.650"/>
<circle cx="341.8" cy="741.9" r="1.650"/>
<circle cx="357.6" cy="740.8" r="1.650"/>
<circle cx="362.8" cy="741.9" r="1.650"/>
<circle cx="339.6" cy="745.9" r="1.650"/>
<circle cx="349.7" cy="744.6" r="1.650"/>
<circle cx="352.2" cy="743.7" r="1.650"/>
<circle cx="373.3" cy="745.3" r="1.650"/>
<circle cx="383.5" cy="744.6" r="1.650"/>
<circle cx="360.1" cy="750.2" r="1.650"/>
<circle cx="365.2" cy="749.3" r="1.650"/>
<circle cx="336.9" cy="755.4" r="1.650"/>
<circle cx="406.6" cy="754.7" r="1.650"/>
<circle cx="367.9" cy="758.1" r="1.650"/>
</g>
<circle cx="356" cy="734" r="1.600" fill="#e03a1e"/>
<path d="M379 711L364 729.200" stroke="#e2452c" stroke-width="0.950"/><path d="M362.800 730.600L363.700 727.300L366 729.200Z" fill="#e2452c"/>
<text x="284.45" y="773.100" font-size="3.300" text-anchor="middle" fill="#222">30</text>
<text x="323.4" y="773.100" font-size="3.300" text-anchor="middle" fill="#222">45</text>
<text x="362.8" y="773.100" font-size="3.300" text-anchor="middle" fill="#222">60</text>
<text x="401.5" y="773.100" font-size="3.300" text-anchor="middle" fill="#222">75</text>
<text x="440.4" y="773.100" font-size="3.300" text-anchor="middle" fill="#222">90</text>
<text x="363" y="777.600" font-size="4.200" font-weight="bold" text-anchor="middle" fill="#222" style="font-family:'DejaVu Sans',sans-serif">Years</text>
<text x="286.250" y="705.400" font-size="7.300" font-weight="bold" fill="#111" textLength="51.700" lengthAdjust="spacingAndGlyphs" style="font-family:'DejaVu Sans',sans-serif">Age of onset</text>
<text x="370.600" y="708.800" font-size="4.200" fill="#111" textLength="23.700" lengthAdjust="spacingAndGlyphs" style="font-family:'DejaVu Sans',sans-serif">Mean AOO</text>
<path d="M491.5 730.6L491.50 688.80A41.8 41.8 0 0 1 501.40 771.21Z" fill="#1b971b" stroke="#fff" stroke-width="0.400"/>
<path d="M491.5 730.6L501.40 771.21A41.8 41.8 0 1 1 481.67 689.97Z" fill="#9b079b" stroke="#fff" stroke-width="0.400"/>
<path d="M491.5 730.6L481.67 689.97A41.8 41.8 0 0 1 491.50 688.80Z" fill="#2a9fd8" stroke="#fff" stroke-width="0.400"/>
<text x="494.400" y="718.750" font-size="6.600" font-weight="bold" fill="#0a1a0a" textLength="23.700" lengthAdjust="spacingAndGlyphs" style="font-family:'DejaVu Sans',sans-serif">MSA-C</text>
<text x="458.100" y="749.400" font-size="6.600" font-weight="bold" fill="#1a061a" textLength="23.800" lengthAdjust="spacingAndGlyphs" style="font-family:'DejaVu Sans',sans-serif">MSA-P</text>
<text x="481.250" y="696" font-size="4.400" font-weight="bold" fill="#0a1420" textLength="10.600" lengthAdjust="spacingAndGlyphs" style="font-family:'DejaVu Sans',sans-serif">APS</text>
<text x="516.900" y="728.600" font-size="3" font-weight="bold" fill="#fff" textLength="11.800" lengthAdjust="spacingAndGlyphs" style="font-family:'DejaVu Sans',sans-serif">46.2%</text>
<text x="454.750" y="740.600" font-size="3" font-weight="bold" fill="#fff" textLength="7.700" lengthAdjust="spacingAndGlyphs" style="font-family:'DejaVu Sans',sans-serif">50%</text>
<path d="M285.8 831.9V936.6M346.55 831.9V936.6M407.3 831.9V936.6M468.05 831.9V936.6M528.8 831.9V936.6M285.8 831.9H528.8M285.8 858.3H528.8M285.8 884.25H528.8M285.8 910.6H528.8M285.8 936.6H528.8" stroke="#d4d4d4" stroke-width="0.600" fill="none"/>
<path d="M285.800 831.900V936.600H528.800" stroke="#5a5a5a" stroke-width="0.700" fill="none"/>
<g fill="#2c60d2">
<circle cx="329.0" cy="900.1" r="2.300"/>
<circle cx="377.3" cy="854.2" r="2.300"/>
<circle cx="371.2" cy="886.9" r="2.300"/>
<circle cx="374.2" cy="892.0" r="2.300"/>
<circle cx="371.2" cy="904.2" r="2.300"/>
<circle cx="380.3" cy="902.1" r="2.300"/>
<circle cx="395.5" cy="886.9" r="2.300"/>
<circle cx="395.5" cy="900.1" r="2.300"/>
<circle cx="407.6" cy="898.1" r="2.300"/>
<circle cx="420.1" cy="847.1" r="2.300"/>
<circle cx="428.9" cy="843.7" r="2.300"/>
<circle cx="420.1" cy="864.3" r="2.300"/>
<circle cx="422.8" cy="871.8" r="2.300"/>
<circle cx="425.9" cy="874.1" r="2.300"/>
<circle cx="416.7" cy="880.2" r="2.300"/>
<circle cx="441.0" cy="883.6" r="2.300"/>
<circle cx="444.4" cy="883.6" r="2.300"/>
<circle cx="444.4" cy="864.3" r="2.300"/>
<circle cx="453.2" cy="871.8" r="2.300"/>
<circle cx="453.2" cy="874.1" r="2.300"/>
<circle cx="462.3" cy="874.1" r="2.300"/>
<circle cx="474.8" cy="861.3" r="2.300"/>
<circle cx="483.6" cy="849.8" r="2.300"/>
<circle cx="456.2" cy="900.1" r="2.300"/>
<circle cx="471.8" cy="907.5" r="2.300"/>
<circle cx="428.9" cy="917.3" r="2.300"/>
<circle cx="444.4" cy="919.3" r="2.300"/>
<circle cx="462.3" cy="918.3" r="2.300"/>
<circle cx="480.9" cy="923.4" r="2.300"/>
<circle cx="420.1" cy="926.4" r="2.300"/>
</g>
<circle cx="427.200" cy="884.600" r="2.300" fill="#e2381c"/>
<path d="M447.800 860.600L432.300 879.800" stroke="#e2452c" stroke-width="0.950"/><path d="M430.900 881.500L431.700 877.800L434.300 879.900Z" fill="#e2452c"/>
<text x="285.8" y="945.600" font-size="6.300" text-anchor="middle" fill="#222">0</text>
<text x="346.55" y="945.600" font-size="6.300" text-anchor="middle" fill="#222">20</text>
<text x="407.3" y="945.600" font-size="6.300" text-anchor="middle" fill="#222">40</text>
<text x="468.05" y="945.600" font-size="6.300" text-anchor="middle" fill="#222">60</text>
<text x="528.8" y="945.600" font-size="6.300" text-anchor="middle" fill="#222">80</text>
<text x="407.300" y="955.100" font-size="4.700" font-weight="bold" text-anchor="middle" fill="#222">Score</text>
<text x="290.200" y="825.900" font-size="6.300" font-weight="bold" fill="#111" textLength="89.400" lengthAdjust="spacingAndGlyphs" style="font-family:'DejaVu Sans',sans-serif">UMSARS part I and II</text>
<text x="442.700" y="860.300" font-size="3.800" fill="#111">Mean</text>
</svg>
<!-- genetics study design -->
<svg style="left:0;top:912px" width="275" height="125" viewBox="0 912 275 125">
<rect x="13.250" y="918.400" width="245.950" height="113.500" fill="#fff" stroke="#cfcfcf" stroke-width="0.700"/>
<ellipse cx="41.7" cy="949.7" rx="26" ry="20.9" fill="#7b7b7b" stroke="#555" stroke-width="0.8"/>
<text x="41.7" y="941.00" font-size="4.6" text-anchor="middle" fill="#f4f4f4">Brain</text>
<text x="41.7" y="948.30" font-size="4.6" text-anchor="middle" fill="#f4f4f4">pathologically</text>
<text x="41.7" y="955.65" font-size="4.6" text-anchor="middle" fill="#f4f4f4">confirmed</text>
<text x="41.7" y="963.00" font-size="4.6" text-anchor="middle" fill="#f4f4f4">MSA samples</text>
<ellipse cx="95.8" cy="933.1" rx="22.1" ry="12.35" fill="#7b7b7b" stroke="#555" stroke-width="0.8"/>
<text x="95.8" y="928.40" font-size="4.6" text-anchor="middle" fill="#f4f4f4">GWAS</text>
<text x="95.8" y="935.40" font-size="4.6" text-anchor="middle" fill="#f4f4f4">Common</text>
<text x="95.8" y="942.65" font-size="4.6" text-anchor="middle" fill="#f4f4f4">variants</text>
<ellipse cx="93.7" cy="970.5" rx="21.1" ry="12.2" fill="#7b7b7b" stroke="#555" stroke-width="0.8"/>
<text x="93.7" y="965.40" font-size="4.6" text-anchor="middle" fill="#f4f4f4">Exome Seq</text>
<text x="93.7" y="972.20" font-size="4.6" text-anchor="middle" fill="#f4f4f4">Rare</text>
<text x="93.7" y="979.70" font-size="4.6" text-anchor="middle" fill="#f4f4f4">variants</text>
<ellipse cx="41.7" cy="1003.3" rx="26.3" ry="20.9" fill="#f1c6c2" stroke="#d53232" stroke-width="1"/>
<text x="41.7" y="994.20" font-size="4.6" text-anchor="middle" fill="#d53232">Blood</text>
<text x="41.7" y="1001.30" font-size="4.6" text-anchor="middle" fill="#d53232">clinically well-</text>
<text x="41.7" y="1008.60" font-size="4.6" text-anchor="middle" fill="#d53232">characterized</text>
<text x="41.7" y="1016.10" font-size="4.6" text-anchor="middle" fill="#d53232">MSA samples</text>
<ellipse cx="165.5" cy="948.75" rx="31.1" ry="21" fill="#7b7b7b" stroke="#555" stroke-width="0.8"/>
<text x="165.5" y="936.15" font-size="4.6" text-anchor="middle" fill="#f4f4f4">Analysis of</text>
<text x="165.5" y="943.50" font-size="4.6" text-anchor="middle" fill="#f4f4f4">Differential</text>
<text x="165.5" y="951.00" font-size="4.6" text-anchor="middle" fill="#f4f4f4">expression  and</text>
<text x="165.5" y="958.40" font-size="4.6" text-anchor="middle" fill="#f4f4f4">methylation of</text>
<text x="165.5" y="965.90" font-size="4.6" text-anchor="middle" fill="#f4f4f4">genes</text>
<ellipse cx="233.25" cy="946.1" rx="23.2" ry="25.5" fill="#7b7b7b" stroke="#555" stroke-width="0.8"/>
<text x="233.25" y="940.50" font-size="4.4" text-anchor="middle" fill="#f4f4f4" text-decoration="underline" font-style="italic">MSA pathways</text>
<text x="233.25" y="947.90" font-size="4.4" text-anchor="middle" fill="#f4f4f4" text-decoration="underline" font-style="italic">and targets for</text>
<text x="233.25" y="955.40" font-size="4.4" text-anchor="middle" fill="#f4f4f4" text-decoration="underline" font-style="italic">treatment</text>
<ellipse cx="165.5" cy="1003" rx="31.1" ry="21" fill="#f1c6c2" stroke="#d53232" stroke-width="1"/>
<text x="165.5" y="990.40" font-size="4.6" text-anchor="middle" fill="#d53232">Analysis of</text>
<text x="165.5" y="997.75" font-size="4.6" text-anchor="middle" fill="#d53232">Differential</text>
<text x="165.5" y="1005.30" font-size="4.6" text-anchor="middle" fill="#d53232">expression  and</text>
<text x="165.5" y="1012.60" font-size="4.6" text-anchor="middle" fill="#d53232">methylation of</text>
<text x="165.5" y="1020.15" font-size="4.6" text-anchor="middle" fill="#d53232">genes</text>
<ellipse cx="233.25" cy="1003" rx="23.2" ry="24.9" fill="#f1c6c2" stroke="#d53232" stroke-width="1"/>
<text x="233.25" y="993.40" font-size="4.4" text-anchor="middle" fill="#d53232" text-decoration="underline" font-style="italic">MSA</text>
<text x="233.25" y="1000.90" font-size="4.4" text-anchor="middle" fill="#d53232" text-decoration="underline" font-style="italic">biomarkers of</text>
<text x="233.25" y="1008.40" font-size="4.4" text-anchor="middle" fill="#d53232" text-decoration="underline" font-style="italic">diagnosis and</text>
<text x="233.25" y="1015.80" font-size="4.4" text-anchor="middle" fill="#d53232" text-decoration="underline" font-style="italic">prognosis</text>
<path d="M68.5 949.7L128.4 949.7" stroke="#7d7d7d" stroke-width="0.7" fill="none"/>
<path d="M131.0 949.7L128.4 951.0L128.4 948.4Z" fill="#7d7d7d"/>
<path d="M68.5 942.9L72.8 936.1" stroke="#7d7d7d" stroke-width="0.6" fill="none"/>
<path d="M74.2 933.9L73.9 936.8L71.7 935.4Z" fill="#7d7d7d"/>
<path d="M67.7 955.0L76.7 959.6" stroke="#7d7d7d" stroke-width="0.6" fill="none"/>
<path d="M79.0 960.8L76.1 960.7L77.3 958.4Z" fill="#7d7d7d"/>
<path d="M140.0 931.5L121.5 927.9" stroke="#7d7d7d" stroke-width="0.6" fill="none"/>
<path d="M118.9 927.4L121.7 926.6L121.2 929.2Z" fill="#7d7d7d"/>
<path d="M119.7 935.6L135.8 938.4" stroke="#7d7d7d" stroke-width="0.6" fill="none"/>
<path d="M138.4 938.8L135.6 939.6L136.1 937.1Z" fill="#7d7d7d"/>
<path d="M117.2 966.4L135.9 962.2" stroke="#7d7d7d" stroke-width="0.6" fill="none"/>
<path d="M138.4 961.6L136.2 963.4L135.6 960.9Z" fill="#7d7d7d"/>
<path d="M140.0 967.2L120.5 973.8" stroke="#7d7d7d" stroke-width="0.6" fill="none"/>
<path d="M118.0 974.6L120.1 972.5L120.9 975.0Z" fill="#7d7d7d"/>
<path d="M71.8 1003.3L128.4 1003.3" stroke="#d86a6a" stroke-width="0.6" fill="none"/>
<path d="M131.0 1003.3L128.4 1004.6L128.4 1002.0Z" fill="#d86a6a"/>
<path d="M162.9 979.6L162.9 973.2" stroke="#d86a6a" stroke-width="0.6" fill="none"/>
<path d="M162.9 970.6L164.2 973.2L161.6 973.2Z" fill="#d86a6a"/>
<path d="M170.2 970.8L170.2 977.4" stroke="#7d7d7d" stroke-width="0.6" fill="none"/>
<path d="M170.2 980.0L168.9 977.4L171.6 977.4Z" fill="#7d7d7d"/>
<path d="M197.900 944.750H203.150V940.850L209.100 948.750L203.150 956.650V952.750H197.900Z" fill="#7b7b7b" stroke="#555" stroke-width="0.500"/>
<path d="M197.900 999H203.150V995.100L209.100 1003L203.150 1010.900V1007H197.900Z" fill="#f1c6c2" stroke="#d53232" stroke-width="0.900"/>
</svg>

</body>
</html>
